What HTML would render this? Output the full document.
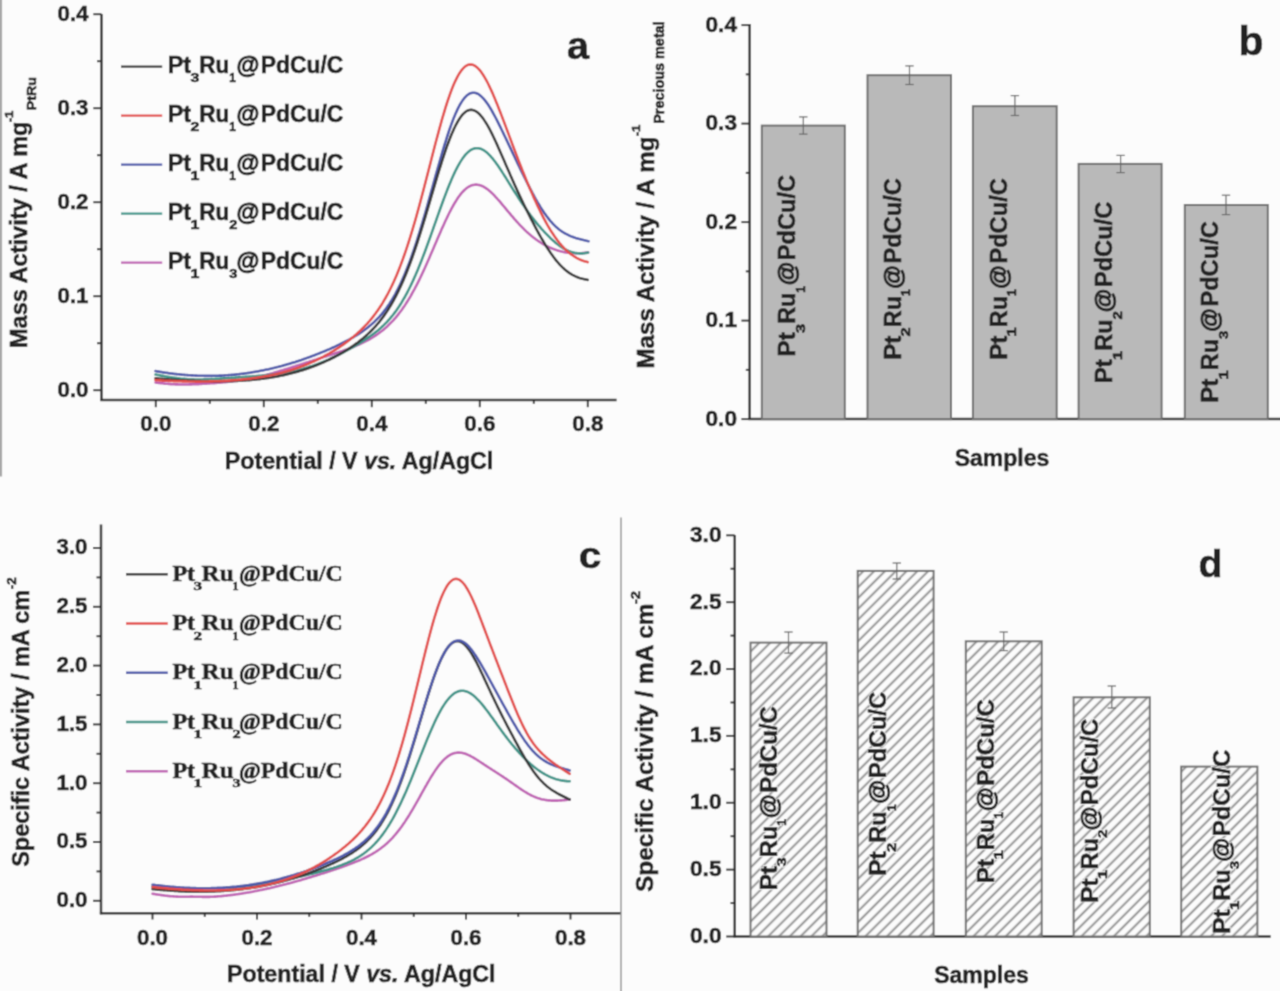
<!DOCTYPE html>
<html><head><meta charset="utf-8"><style>
html,body{margin:0;padding:0;background:#fcfcfc;}
svg{display:block;}
</style></head><body>
<svg width="1280" height="991" viewBox="0 0 1280 991">
<defs><filter id="soft" x="0" y="0" width="1280" height="991" filterUnits="userSpaceOnUse"><feConvolveMatrix order="3" kernelMatrix="0.04 0.12 0.04 0.12 0.36 0.12 0.04 0.12 0.04" edgeMode="duplicate"/></filter></defs>
<g filter="url(#soft)">
<rect width="1280" height="991" fill="#fcfcfc"/>
<line x1="1.00" y1="0.00" x2="1.00" y2="476.50" stroke="#a8a8a8" stroke-width="2.2"/>
<line x1="621.00" y1="517.50" x2="621.00" y2="991.00" stroke="#9a9a9a" stroke-width="1.6"/>
<line x1="101.50" y1="14.00" x2="101.50" y2="401.00" stroke="#333333" stroke-width="2.5"/>
<line x1="100.40" y1="400.00" x2="616.60" y2="400.00" stroke="#333333" stroke-width="2.5"/>
<line x1="93.30" y1="390.20" x2="101.50" y2="390.20" stroke="#333333" stroke-width="2"/>
<text x="88.5" y="396.6" font-family="'Liberation Sans', sans-serif" font-weight="bold" font-size="22" text-anchor="end" fill="#232323" textLength="31.0" lengthAdjust="spacingAndGlyphs" stroke="#232323" stroke-width="0.6">0.0</text>
<line x1="97.00" y1="343.20" x2="101.50" y2="343.20" stroke="#333333" stroke-width="2"/>
<line x1="93.30" y1="296.20" x2="101.50" y2="296.20" stroke="#333333" stroke-width="2"/>
<text x="88.5" y="302.6" font-family="'Liberation Sans', sans-serif" font-weight="bold" font-size="22" text-anchor="end" fill="#232323" textLength="31.0" lengthAdjust="spacingAndGlyphs" stroke="#232323" stroke-width="0.6">0.1</text>
<line x1="97.00" y1="249.20" x2="101.50" y2="249.20" stroke="#333333" stroke-width="2"/>
<line x1="93.30" y1="202.20" x2="101.50" y2="202.20" stroke="#333333" stroke-width="2"/>
<text x="88.5" y="208.6" font-family="'Liberation Sans', sans-serif" font-weight="bold" font-size="22" text-anchor="end" fill="#232323" textLength="31.0" lengthAdjust="spacingAndGlyphs" stroke="#232323" stroke-width="0.6">0.2</text>
<line x1="97.00" y1="155.20" x2="101.50" y2="155.20" stroke="#333333" stroke-width="2"/>
<line x1="93.30" y1="108.20" x2="101.50" y2="108.20" stroke="#333333" stroke-width="2"/>
<text x="88.5" y="114.6" font-family="'Liberation Sans', sans-serif" font-weight="bold" font-size="22" text-anchor="end" fill="#232323" textLength="31.0" lengthAdjust="spacingAndGlyphs" stroke="#232323" stroke-width="0.6">0.3</text>
<line x1="97.00" y1="61.20" x2="101.50" y2="61.20" stroke="#333333" stroke-width="2"/>
<line x1="93.30" y1="14.20" x2="101.50" y2="14.20" stroke="#333333" stroke-width="2"/>
<text x="88.5" y="20.6" font-family="'Liberation Sans', sans-serif" font-weight="bold" font-size="22" text-anchor="end" fill="#232323" textLength="31.0" lengthAdjust="spacingAndGlyphs" stroke="#232323" stroke-width="0.6">0.4</text>
<line x1="155.80" y1="400.00" x2="155.80" y2="407.20" stroke="#333333" stroke-width="2"/>
<text x="155.8" y="430.8" font-family="'Liberation Sans', sans-serif" font-weight="bold" font-size="22" text-anchor="middle" fill="#232323" textLength="31.0" lengthAdjust="spacingAndGlyphs" stroke="#232323" stroke-width="0.6">0.0</text>
<line x1="209.80" y1="400.00" x2="209.80" y2="403.80" stroke="#333333" stroke-width="2"/>
<line x1="263.80" y1="400.00" x2="263.80" y2="407.20" stroke="#333333" stroke-width="2"/>
<text x="263.8" y="430.8" font-family="'Liberation Sans', sans-serif" font-weight="bold" font-size="22" text-anchor="middle" fill="#232323" textLength="31.0" lengthAdjust="spacingAndGlyphs" stroke="#232323" stroke-width="0.6">0.2</text>
<line x1="317.80" y1="400.00" x2="317.80" y2="403.80" stroke="#333333" stroke-width="2"/>
<line x1="371.80" y1="400.00" x2="371.80" y2="407.20" stroke="#333333" stroke-width="2"/>
<text x="371.8" y="430.8" font-family="'Liberation Sans', sans-serif" font-weight="bold" font-size="22" text-anchor="middle" fill="#232323" textLength="31.0" lengthAdjust="spacingAndGlyphs" stroke="#232323" stroke-width="0.6">0.4</text>
<line x1="425.80" y1="400.00" x2="425.80" y2="403.80" stroke="#333333" stroke-width="2"/>
<line x1="479.80" y1="400.00" x2="479.80" y2="407.20" stroke="#333333" stroke-width="2"/>
<text x="479.8" y="430.8" font-family="'Liberation Sans', sans-serif" font-weight="bold" font-size="22" text-anchor="middle" fill="#232323" textLength="31.0" lengthAdjust="spacingAndGlyphs" stroke="#232323" stroke-width="0.6">0.6</text>
<line x1="533.80" y1="400.00" x2="533.80" y2="403.80" stroke="#333333" stroke-width="2"/>
<line x1="587.80" y1="400.00" x2="587.80" y2="407.20" stroke="#333333" stroke-width="2"/>
<text x="587.8" y="430.8" font-family="'Liberation Sans', sans-serif" font-weight="bold" font-size="22" text-anchor="middle" fill="#232323" textLength="31.0" lengthAdjust="spacingAndGlyphs" stroke="#232323" stroke-width="0.6">0.8</text>
<text x="224.8" y="469.2" font-family="'Liberation Sans', sans-serif" font-weight="bold" font-size="23" text-anchor="start" fill="#232323" textLength="268.5" lengthAdjust="spacingAndGlyphs" stroke="#232323" stroke-width="0.6">Potential / V <tspan font-style="italic">vs.</tspan> Ag/AgCl</text>
<text transform="translate(27.2,348.0) rotate(-90)" font-family="'Liberation Sans', sans-serif" font-weight="bold" font-size="23" text-anchor="start" fill="#232323" textLength="226.5" lengthAdjust="spacingAndGlyphs" stroke="#232323" stroke-width="0.6">Mass Activity / A mg</text>
<text transform="translate(13.2,122.3) rotate(-90)" font-family="'Liberation Sans', sans-serif" font-weight="bold" font-size="11" text-anchor="start" fill="#232323" textLength="11.5" lengthAdjust="spacingAndGlyphs" stroke="#232323" stroke-width="0.6">-1</text>
<text transform="translate(35.8,110.2) rotate(-90)" font-family="'Liberation Sans', sans-serif" font-weight="bold" font-size="13" text-anchor="start" fill="#232323" textLength="33.2" lengthAdjust="spacingAndGlyphs" stroke="#232323" stroke-width="0.6">PtRu</text>
<text x="567.0" y="59.3" font-family="'Liberation Sans', sans-serif" font-weight="bold" font-size="38" text-anchor="start" fill="#232323" textLength="22.0" lengthAdjust="spacingAndGlyphs" stroke="#232323" stroke-width="0.6">a</text>
<line x1="121.00" y1="66.60" x2="162.20" y2="66.60" stroke="#383838" stroke-width="2.4"/>
<text x="167.8" y="72.7" font-family="'Liberation Sans', sans-serif" font-weight="bold" font-size="23" text-anchor="start" fill="#232323" textLength="23.3" lengthAdjust="spacingAndGlyphs" stroke="#232323" stroke-width="0.6">Pt</text>
<text x="190.4" y="82.2" font-family="'Liberation Sans', sans-serif" font-weight="bold" font-size="12" text-anchor="start" fill="#232323" textLength="8.8" lengthAdjust="spacingAndGlyphs" stroke="#232323" stroke-width="0.6">3</text>
<text x="199.3" y="72.7" font-family="'Liberation Sans', sans-serif" font-weight="bold" font-size="23" text-anchor="start" fill="#232323" textLength="30.1" lengthAdjust="spacingAndGlyphs" stroke="#232323" stroke-width="0.6">Ru</text>
<text x="229.3" y="82.2" font-family="'Liberation Sans', sans-serif" font-weight="bold" font-size="12" text-anchor="start" fill="#232323" textLength="6.6" lengthAdjust="spacingAndGlyphs" stroke="#232323" stroke-width="0.6">1</text>
<text x="236.5" y="72.7" font-family="'Liberation Sans', sans-serif" font-weight="bold" font-size="23" text-anchor="start" fill="#232323" textLength="22.8" lengthAdjust="spacingAndGlyphs" stroke="#232323" stroke-width="1.0">@</text>
<text x="260.7" y="72.7" font-family="'Liberation Sans', sans-serif" font-weight="bold" font-size="23" text-anchor="start" fill="#232323" textLength="82.6" lengthAdjust="spacingAndGlyphs" stroke="#232323" stroke-width="0.6">PdCu/C</text>
<line x1="121.00" y1="115.60" x2="162.20" y2="115.60" stroke="#e24e4c" stroke-width="2.4"/>
<text x="167.8" y="121.7" font-family="'Liberation Sans', sans-serif" font-weight="bold" font-size="23" text-anchor="start" fill="#232323" textLength="23.3" lengthAdjust="spacingAndGlyphs" stroke="#232323" stroke-width="0.6">Pt</text>
<text x="190.4" y="131.2" font-family="'Liberation Sans', sans-serif" font-weight="bold" font-size="12" text-anchor="start" fill="#232323" textLength="8.8" lengthAdjust="spacingAndGlyphs" stroke="#232323" stroke-width="0.6">2</text>
<text x="199.3" y="121.7" font-family="'Liberation Sans', sans-serif" font-weight="bold" font-size="23" text-anchor="start" fill="#232323" textLength="30.1" lengthAdjust="spacingAndGlyphs" stroke="#232323" stroke-width="0.6">Ru</text>
<text x="229.3" y="131.2" font-family="'Liberation Sans', sans-serif" font-weight="bold" font-size="12" text-anchor="start" fill="#232323" textLength="6.6" lengthAdjust="spacingAndGlyphs" stroke="#232323" stroke-width="0.6">1</text>
<text x="236.5" y="121.7" font-family="'Liberation Sans', sans-serif" font-weight="bold" font-size="23" text-anchor="start" fill="#232323" textLength="22.8" lengthAdjust="spacingAndGlyphs" stroke="#232323" stroke-width="1.0">@</text>
<text x="260.7" y="121.7" font-family="'Liberation Sans', sans-serif" font-weight="bold" font-size="23" text-anchor="start" fill="#232323" textLength="82.6" lengthAdjust="spacingAndGlyphs" stroke="#232323" stroke-width="0.6">PdCu/C</text>
<line x1="121.00" y1="164.60" x2="162.20" y2="164.60" stroke="#4d58aa" stroke-width="2.4"/>
<text x="167.8" y="170.7" font-family="'Liberation Sans', sans-serif" font-weight="bold" font-size="23" text-anchor="start" fill="#232323" textLength="23.3" lengthAdjust="spacingAndGlyphs" stroke="#232323" stroke-width="0.6">Pt</text>
<text x="190.4" y="180.2" font-family="'Liberation Sans', sans-serif" font-weight="bold" font-size="12" text-anchor="start" fill="#232323" textLength="8.8" lengthAdjust="spacingAndGlyphs" stroke="#232323" stroke-width="0.6">1</text>
<text x="199.3" y="170.7" font-family="'Liberation Sans', sans-serif" font-weight="bold" font-size="23" text-anchor="start" fill="#232323" textLength="30.1" lengthAdjust="spacingAndGlyphs" stroke="#232323" stroke-width="0.6">Ru</text>
<text x="229.3" y="180.2" font-family="'Liberation Sans', sans-serif" font-weight="bold" font-size="12" text-anchor="start" fill="#232323" textLength="6.6" lengthAdjust="spacingAndGlyphs" stroke="#232323" stroke-width="0.6">1</text>
<text x="236.5" y="170.7" font-family="'Liberation Sans', sans-serif" font-weight="bold" font-size="23" text-anchor="start" fill="#232323" textLength="22.8" lengthAdjust="spacingAndGlyphs" stroke="#232323" stroke-width="1.0">@</text>
<text x="260.7" y="170.7" font-family="'Liberation Sans', sans-serif" font-weight="bold" font-size="23" text-anchor="start" fill="#232323" textLength="82.6" lengthAdjust="spacingAndGlyphs" stroke="#232323" stroke-width="0.6">PdCu/C</text>
<line x1="121.00" y1="213.60" x2="162.20" y2="213.60" stroke="#3d9488" stroke-width="2.4"/>
<text x="167.8" y="219.7" font-family="'Liberation Sans', sans-serif" font-weight="bold" font-size="23" text-anchor="start" fill="#232323" textLength="23.3" lengthAdjust="spacingAndGlyphs" stroke="#232323" stroke-width="0.6">Pt</text>
<text x="190.4" y="229.2" font-family="'Liberation Sans', sans-serif" font-weight="bold" font-size="12" text-anchor="start" fill="#232323" textLength="8.8" lengthAdjust="spacingAndGlyphs" stroke="#232323" stroke-width="0.6">1</text>
<text x="199.3" y="219.7" font-family="'Liberation Sans', sans-serif" font-weight="bold" font-size="23" text-anchor="start" fill="#232323" textLength="30.1" lengthAdjust="spacingAndGlyphs" stroke="#232323" stroke-width="0.6">Ru</text>
<text x="229.3" y="229.2" font-family="'Liberation Sans', sans-serif" font-weight="bold" font-size="12" text-anchor="start" fill="#232323" textLength="8.1" lengthAdjust="spacingAndGlyphs" stroke="#232323" stroke-width="0.6">2</text>
<text x="236.5" y="219.7" font-family="'Liberation Sans', sans-serif" font-weight="bold" font-size="23" text-anchor="start" fill="#232323" textLength="22.8" lengthAdjust="spacingAndGlyphs" stroke="#232323" stroke-width="1.0">@</text>
<text x="260.7" y="219.7" font-family="'Liberation Sans', sans-serif" font-weight="bold" font-size="23" text-anchor="start" fill="#232323" textLength="82.6" lengthAdjust="spacingAndGlyphs" stroke="#232323" stroke-width="0.6">PdCu/C</text>
<line x1="121.00" y1="262.60" x2="162.20" y2="262.60" stroke="#bf62b3" stroke-width="2.4"/>
<text x="167.8" y="268.7" font-family="'Liberation Sans', sans-serif" font-weight="bold" font-size="23" text-anchor="start" fill="#232323" textLength="23.3" lengthAdjust="spacingAndGlyphs" stroke="#232323" stroke-width="0.6">Pt</text>
<text x="190.4" y="278.2" font-family="'Liberation Sans', sans-serif" font-weight="bold" font-size="12" text-anchor="start" fill="#232323" textLength="8.8" lengthAdjust="spacingAndGlyphs" stroke="#232323" stroke-width="0.6">1</text>
<text x="199.3" y="268.7" font-family="'Liberation Sans', sans-serif" font-weight="bold" font-size="23" text-anchor="start" fill="#232323" textLength="30.1" lengthAdjust="spacingAndGlyphs" stroke="#232323" stroke-width="0.6">Ru</text>
<text x="229.3" y="278.2" font-family="'Liberation Sans', sans-serif" font-weight="bold" font-size="12" text-anchor="start" fill="#232323" textLength="8.1" lengthAdjust="spacingAndGlyphs" stroke="#232323" stroke-width="0.6">3</text>
<text x="236.5" y="268.7" font-family="'Liberation Sans', sans-serif" font-weight="bold" font-size="23" text-anchor="start" fill="#232323" textLength="22.8" lengthAdjust="spacingAndGlyphs" stroke="#232323" stroke-width="1.0">@</text>
<text x="260.7" y="268.7" font-family="'Liberation Sans', sans-serif" font-weight="bold" font-size="23" text-anchor="start" fill="#232323" textLength="82.6" lengthAdjust="spacingAndGlyphs" stroke="#232323" stroke-width="0.6">PdCu/C</text>
<path d="M155.5,382.5 L156.5,382.6 L157.5,382.8 L158.5,382.9 L159.5,383.0 L160.5,383.1 L161.5,383.2 L162.5,383.3 L163.5,383.5 L164.5,383.6 L165.5,383.7 L166.5,383.8 L167.5,383.8 L168.5,383.9 L169.5,384.0 L170.5,384.1 L171.5,384.2 L172.5,384.2 L173.5,384.3 L174.5,384.3 L175.5,384.4 L176.5,384.4 L177.5,384.4 L178.5,384.5 L179.5,384.5 L180.5,384.5 L181.5,384.5 L182.5,384.5 L183.5,384.5 L184.5,384.5 L185.5,384.5 L186.5,384.5 L187.5,384.5 L188.5,384.5 L189.5,384.4 L190.5,384.4 L191.5,384.4 L192.5,384.3 L193.5,384.3 L194.5,384.3 L195.5,384.2 L196.5,384.2 L197.5,384.1 L198.5,384.1 L199.5,384.0 L200.5,384.0 L201.5,383.9 L202.5,383.8 L203.5,383.8 L204.5,383.7 L205.5,383.7 L206.5,383.6 L207.5,383.5 L208.5,383.5 L209.5,383.4 L210.5,383.3 L211.5,383.3 L212.5,383.2 L213.5,383.1 L214.5,383.1 L215.5,383.0 L216.5,382.9 L217.5,382.8 L218.5,382.7 L219.5,382.7 L220.5,382.6 L221.5,382.5 L222.5,382.4 L223.5,382.3 L224.5,382.2 L225.5,382.1 L226.5,382.0 L227.5,381.9 L228.5,381.8 L229.5,381.7 L230.5,381.5 L231.5,381.4 L232.5,381.3 L233.5,381.2 L234.5,381.0 L235.5,380.9 L236.5,380.8 L237.5,380.6 L238.5,380.5 L239.5,380.3 L240.5,380.2 L241.5,380.0 L242.5,379.9 L243.5,379.7 L244.5,379.5 L245.5,379.3 L246.5,379.2 L247.5,379.0 L248.5,378.8 L249.5,378.6 L250.5,378.4 L251.5,378.2 L252.5,378.0 L253.5,377.8 L254.5,377.6 L255.5,377.4 L256.5,377.2 L257.5,376.9 L258.5,376.7 L259.5,376.5 L260.5,376.2 L261.5,376.0 L262.5,375.8 L263.5,375.5 L264.5,375.3 L265.5,375.0 L266.5,374.8 L267.5,374.5 L268.5,374.2 L269.5,374.0 L270.5,373.7 L271.5,373.4 L272.5,373.2 L273.5,372.9 L274.5,372.6 L275.5,372.3 L276.5,372.0 L277.5,371.7 L278.5,371.4 L279.5,371.1 L280.5,370.8 L281.5,370.5 L282.5,370.2 L283.5,369.9 L284.5,369.6 L285.5,369.3 L286.5,369.0 L287.5,368.7 L288.5,368.4 L289.5,368.1 L290.5,367.8 L291.5,367.4 L292.5,367.1 L293.5,366.8 L294.5,366.5 L295.5,366.2 L296.5,365.8 L297.5,365.5 L298.5,365.2 L299.5,364.9 L300.5,364.6 L301.5,364.2 L302.5,363.9 L303.5,363.6 L304.5,363.3 L305.5,362.9 L306.5,362.6 L307.5,362.3 L308.5,362.0 L309.5,361.6 L310.5,361.3 L311.5,361.0 L312.5,360.7 L313.5,360.3 L314.5,360.0 L315.5,359.7 L316.5,359.4 L317.5,359.0 L318.5,358.7 L319.5,358.4 L320.5,358.1 L321.5,357.8 L322.5,357.4 L323.5,357.1 L324.5,356.8 L325.5,356.5 L326.5,356.2 L327.5,355.8 L328.5,355.5 L329.5,355.2 L330.5,354.9 L331.5,354.5 L332.5,354.2 L333.5,353.9 L334.5,353.6 L335.5,353.2 L336.5,352.9 L337.5,352.6 L338.5,352.2 L339.5,351.9 L340.5,351.6 L341.5,351.2 L342.5,350.9 L343.5,350.5 L344.5,350.2 L345.5,349.8 L346.5,349.5 L347.5,349.1 L348.5,348.7 L349.5,348.4 L350.5,348.0 L351.5,347.6 L352.5,347.2 L353.5,346.8 L354.5,346.4 L355.5,346.0 L356.5,345.6 L357.5,345.1 L358.5,344.7 L359.5,344.3 L360.5,343.8 L361.5,343.4 L362.5,342.9 L363.5,342.4 L364.5,341.9 L365.5,341.4 L366.5,340.9 L367.5,340.4 L368.5,339.8 L369.5,339.3 L370.5,338.7 L371.5,338.1 L372.5,337.5 L373.5,336.9 L374.5,336.2 L375.5,335.6 L376.5,334.9 L377.5,334.2 L378.5,333.5 L379.5,332.8 L380.5,332.0 L381.5,331.3 L382.5,330.5 L383.5,329.7 L384.5,328.8 L385.5,328.0 L386.5,327.1 L387.5,326.2 L388.5,325.2 L389.5,324.2 L390.5,323.2 L391.5,322.2 L392.5,321.2 L393.5,320.1 L394.5,318.9 L395.5,317.8 L396.5,316.6 L397.5,315.4 L398.5,314.1 L399.5,312.8 L400.5,311.5 L401.5,310.2 L402.5,308.8 L403.5,307.3 L404.5,305.9 L405.5,304.4 L406.5,302.8 L407.5,301.2 L408.5,299.6 L409.5,298.0 L410.5,296.3 L411.5,294.5 L412.5,292.7 L413.5,290.9 L414.5,289.1 L415.5,287.2 L416.5,285.3 L417.5,283.3 L418.5,281.3 L419.5,279.3 L420.5,277.2 L421.5,275.1 L422.5,273.0 L423.5,270.9 L424.5,268.7 L425.5,266.5 L426.5,264.2 L427.5,262.0 L428.5,259.7 L429.5,257.4 L430.5,255.1 L431.5,252.8 L432.5,250.5 L433.5,248.2 L434.5,245.8 L435.5,243.5 L436.5,241.2 L437.5,238.8 L438.5,236.5 L439.5,234.2 L440.5,231.9 L441.5,229.6 L442.5,227.4 L443.5,225.2 L444.5,223.0 L445.5,220.8 L446.5,218.7 L447.5,216.6 L448.5,214.5 L449.5,212.5 L450.5,210.6 L451.5,208.7 L452.5,206.8 L453.5,205.0 L454.5,203.3 L455.5,201.7 L456.5,200.1 L457.5,198.5 L458.5,197.1 L459.5,195.7 L460.5,194.4 L461.5,193.2 L462.5,192.0 L463.5,191.0 L464.5,190.0 L465.5,189.1 L466.5,188.2 L467.5,187.5 L468.5,186.9 L469.5,186.3 L470.5,185.8 L471.5,185.4 L472.5,185.1 L473.5,184.9 L474.5,184.7 L475.5,184.6 L476.5,184.6 L477.5,184.7 L478.5,184.9 L479.5,185.1 L480.5,185.4 L481.5,185.8 L482.5,186.2 L483.5,186.7 L484.5,187.3 L485.5,187.9 L486.5,188.6 L487.5,189.3 L488.5,190.1 L489.5,190.9 L490.5,191.8 L491.5,192.7 L492.5,193.7 L493.5,194.7 L494.5,195.7 L495.5,196.8 L496.5,197.8 L497.5,199.0 L498.5,200.1 L499.5,201.2 L500.5,202.4 L501.5,203.6 L502.5,204.8 L503.5,206.0 L504.5,207.2 L505.5,208.4 L506.5,209.6 L507.5,210.8 L508.5,212.0 L509.5,213.2 L510.5,214.4 L511.5,215.6 L512.5,216.7 L513.5,217.9 L514.5,219.1 L515.5,220.2 L516.5,221.3 L517.5,222.4 L518.5,223.5 L519.5,224.6 L520.5,225.7 L521.5,226.7 L522.5,227.7 L523.5,228.7 L524.5,229.7 L525.5,230.6 L526.5,231.6 L527.5,232.5 L528.5,233.4 L529.5,234.3 L530.5,235.1 L531.5,236.0 L532.5,236.8 L533.5,237.6 L534.5,238.3 L535.5,239.1 L536.5,239.8 L537.5,240.5 L538.5,241.2 L539.5,241.8 L540.5,242.5 L541.5,243.1 L542.5,243.7 L543.5,244.3 L544.5,244.8 L545.5,245.4 L546.5,245.9 L547.5,246.4 L548.5,246.9 L549.5,247.4 L550.5,247.8 L551.5,248.2 L552.5,248.6 L553.5,249.0 L554.5,249.4 L555.5,249.8 L556.5,250.1 L557.5,250.4 L558.5,250.7 L559.5,251.0 L560.5,251.3 L561.5,251.5 L562.5,251.8 L563.5,252.0 L564.5,252.2 L565.5,252.4 L566.5,252.5 L567.5,252.7 L568.5,252.8 L569.5,252.9 L570.5,253.0 L571.5,253.1 L572.5,253.2 L573.5,253.3 L574.5,253.3 L575.5,253.3 L576.5,253.3 L577.5,253.3 L578.5,253.3 L579.5,253.3 L580.5,253.2 L581.5,253.2 L582.5,253.1 L583.5,253.0 L584.5,252.9 L585.5,252.8 L586.5,252.6 L587.5,252.5 L588.1,252.4" fill="none" stroke="#bf62b3" stroke-width="2.6" stroke-linejoin="round" stroke-linecap="round"/>
<path d="M155.5,374.5 L156.5,374.7 L157.5,374.9 L158.5,375.1 L159.5,375.3 L160.5,375.5 L161.5,375.7 L162.5,375.8 L163.5,376.0 L164.5,376.2 L165.5,376.4 L166.5,376.6 L167.5,376.7 L168.5,376.9 L169.5,377.1 L170.5,377.2 L171.5,377.4 L172.5,377.5 L173.5,377.7 L174.5,377.8 L175.5,378.0 L176.5,378.1 L177.5,378.2 L178.5,378.3 L179.5,378.4 L180.5,378.6 L181.5,378.7 L182.5,378.8 L183.5,378.9 L184.5,378.9 L185.5,379.0 L186.5,379.1 L187.5,379.2 L188.5,379.2 L189.5,379.3 L190.5,379.3 L191.5,379.4 L192.5,379.4 L193.5,379.4 L194.5,379.5 L195.5,379.5 L196.5,379.5 L197.5,379.5 L198.5,379.5 L199.5,379.5 L200.5,379.5 L201.5,379.5 L202.5,379.5 L203.5,379.4 L204.5,379.4 L205.5,379.4 L206.5,379.4 L207.5,379.3 L208.5,379.3 L209.5,379.2 L210.5,379.2 L211.5,379.1 L212.5,379.1 L213.5,379.0 L214.5,379.0 L215.5,378.9 L216.5,378.9 L217.5,378.8 L218.5,378.7 L219.5,378.7 L220.5,378.6 L221.5,378.6 L222.5,378.5 L223.5,378.4 L224.5,378.4 L225.5,378.3 L226.5,378.2 L227.5,378.2 L228.5,378.1 L229.5,378.0 L230.5,378.0 L231.5,377.9 L232.5,377.8 L233.5,377.7 L234.5,377.7 L235.5,377.6 L236.5,377.5 L237.5,377.5 L238.5,377.4 L239.5,377.3 L240.5,377.3 L241.5,377.2 L242.5,377.1 L243.5,377.1 L244.5,377.0 L245.5,376.9 L246.5,376.8 L247.5,376.8 L248.5,376.7 L249.5,376.6 L250.5,376.6 L251.5,376.5 L252.5,376.4 L253.5,376.3 L254.5,376.3 L255.5,376.2 L256.5,376.1 L257.5,376.0 L258.5,375.9 L259.5,375.8 L260.5,375.8 L261.5,375.7 L262.5,375.6 L263.5,375.5 L264.5,375.4 L265.5,375.3 L266.5,375.2 L267.5,375.1 L268.5,375.0 L269.5,374.9 L270.5,374.7 L271.5,374.6 L272.5,374.5 L273.5,374.4 L274.5,374.3 L275.5,374.1 L276.5,374.0 L277.5,373.9 L278.5,373.7 L279.5,373.6 L280.5,373.4 L281.5,373.3 L282.5,373.1 L283.5,373.0 L284.5,372.8 L285.5,372.6 L286.5,372.5 L287.5,372.3 L288.5,372.1 L289.5,371.9 L290.5,371.7 L291.5,371.5 L292.5,371.3 L293.5,371.1 L294.5,370.9 L295.5,370.6 L296.5,370.4 L297.5,370.2 L298.5,369.9 L299.5,369.7 L300.5,369.4 L301.5,369.2 L302.5,368.9 L303.5,368.6 L304.5,368.4 L305.5,368.1 L306.5,367.8 L307.5,367.5 L308.5,367.2 L309.5,366.8 L310.5,366.5 L311.5,366.2 L312.5,365.9 L313.5,365.5 L314.5,365.2 L315.5,364.8 L316.5,364.5 L317.5,364.1 L318.5,363.7 L319.5,363.3 L320.5,362.9 L321.5,362.5 L322.5,362.1 L323.5,361.7 L324.5,361.3 L325.5,360.9 L326.5,360.5 L327.5,360.0 L328.5,359.6 L329.5,359.1 L330.5,358.7 L331.5,358.2 L332.5,357.7 L333.5,357.3 L334.5,356.8 L335.5,356.3 L336.5,355.8 L337.5,355.3 L338.5,354.8 L339.5,354.3 L340.5,353.8 L341.5,353.3 L342.5,352.8 L343.5,352.3 L344.5,351.7 L345.5,351.2 L346.5,350.7 L347.5,350.1 L348.5,349.6 L349.5,349.0 L350.5,348.5 L351.5,347.9 L352.5,347.3 L353.5,346.8 L354.5,346.2 L355.5,345.6 L356.5,345.0 L357.5,344.4 L358.5,343.8 L359.5,343.2 L360.5,342.6 L361.5,342.0 L362.5,341.4 L363.5,340.7 L364.5,340.1 L365.5,339.4 L366.5,338.8 L367.5,338.1 L368.5,337.4 L369.5,336.7 L370.5,336.0 L371.5,335.3 L372.5,334.6 L373.5,333.8 L374.5,333.1 L375.5,332.3 L376.5,331.5 L377.5,330.7 L378.5,329.9 L379.5,329.0 L380.5,328.1 L381.5,327.2 L382.5,326.3 L383.5,325.4 L384.5,324.4 L385.5,323.4 L386.5,322.4 L387.5,321.3 L388.5,320.2 L389.5,319.1 L390.5,317.9 L391.5,316.7 L392.5,315.5 L393.5,314.2 L394.5,312.9 L395.5,311.6 L396.5,310.2 L397.5,308.7 L398.5,307.3 L399.5,305.8 L400.5,304.2 L401.5,302.6 L402.5,300.9 L403.5,299.2 L404.5,297.5 L405.5,295.7 L406.5,293.8 L407.5,292.0 L408.5,290.0 L409.5,288.0 L410.5,286.0 L411.5,283.9 L412.5,281.8 L413.5,279.6 L414.5,277.3 L415.5,275.1 L416.5,272.7 L417.5,270.4 L418.5,268.0 L419.5,265.5 L420.5,263.0 L421.5,260.5 L422.5,257.9 L423.5,255.3 L424.5,252.7 L425.5,250.0 L426.5,247.3 L427.5,244.5 L428.5,241.8 L429.5,239.0 L430.5,236.2 L431.5,233.4 L432.5,230.6 L433.5,227.8 L434.5,224.9 L435.5,222.1 L436.5,219.3 L437.5,216.4 L438.5,213.6 L439.5,210.8 L440.5,208.0 L441.5,205.3 L442.5,202.5 L443.5,199.8 L444.5,197.1 L445.5,194.5 L446.5,191.9 L447.5,189.3 L448.5,186.8 L449.5,184.3 L450.5,181.9 L451.5,179.5 L452.5,177.3 L453.5,175.0 L454.5,172.9 L455.5,170.8 L456.5,168.8 L457.5,166.9 L458.5,165.1 L459.5,163.3 L460.5,161.6 L461.5,160.1 L462.5,158.6 L463.5,157.2 L464.5,155.9 L465.5,154.7 L466.5,153.6 L467.5,152.6 L468.5,151.7 L469.5,150.9 L470.5,150.2 L471.5,149.6 L472.5,149.1 L473.5,148.7 L474.5,148.4 L475.5,148.3 L476.5,148.2 L477.5,148.2 L478.5,148.3 L479.5,148.5 L480.5,148.8 L481.5,149.1 L482.5,149.6 L483.5,150.1 L484.5,150.8 L485.5,151.5 L486.5,152.3 L487.5,153.1 L488.5,154.1 L489.5,155.1 L490.5,156.1 L491.5,157.3 L492.5,158.4 L493.5,159.7 L494.5,161.0 L495.5,162.3 L496.5,163.7 L497.5,165.1 L498.5,166.5 L499.5,168.0 L500.5,169.5 L501.5,171.0 L502.5,172.6 L503.5,174.1 L504.5,175.7 L505.5,177.3 L506.5,178.9 L507.5,180.5 L508.5,182.1 L509.5,183.7 L510.5,185.3 L511.5,187.0 L512.5,188.6 L513.5,190.2 L514.5,191.7 L515.5,193.3 L516.5,194.9 L517.5,196.4 L518.5,198.0 L519.5,199.5 L520.5,201.0 L521.5,202.5 L522.5,204.0 L523.5,205.4 L524.5,206.9 L525.5,208.3 L526.5,209.7 L527.5,211.1 L528.5,212.5 L529.5,213.8 L530.5,215.2 L531.5,216.5 L532.5,217.8 L533.5,219.1 L534.5,220.4 L535.5,221.6 L536.5,222.9 L537.5,224.1 L538.5,225.3 L539.5,226.4 L540.5,227.6 L541.5,228.8 L542.5,229.9 L543.5,231.0 L544.5,232.1 L545.5,233.2 L546.5,234.2 L547.5,235.2 L548.5,236.2 L549.5,237.2 L550.5,238.2 L551.5,239.1 L552.5,240.1 L553.5,240.9 L554.5,241.8 L555.5,242.7 L556.5,243.5 L557.5,244.3 L558.5,245.0 L559.5,245.8 L560.5,246.4 L561.5,247.1 L562.5,247.8 L563.5,248.4 L564.5,248.9 L565.5,249.5 L566.5,250.0 L567.5,250.4 L568.5,250.9 L569.5,251.3 L570.5,251.7 L571.5,252.0 L572.5,252.3 L573.5,252.5 L574.5,252.8 L575.5,253.0 L576.5,253.1 L577.5,253.2 L578.5,253.3 L579.5,253.4 L580.5,253.4 L581.5,253.4 L582.5,253.4 L583.5,253.3 L584.5,253.2 L585.5,253.0 L586.5,252.9 L587.5,252.7 L588.1,252.6" fill="none" stroke="#3d9488" stroke-width="2.6" stroke-linejoin="round" stroke-linecap="round"/>
<path d="M155.5,371.0 L156.5,371.2 L157.5,371.4 L158.5,371.5 L159.5,371.7 L160.5,371.9 L161.5,372.0 L162.5,372.2 L163.5,372.4 L164.5,372.5 L165.5,372.7 L166.5,372.8 L167.5,372.9 L168.5,373.1 L169.5,373.2 L170.5,373.4 L171.5,373.5 L172.5,373.6 L173.5,373.7 L174.5,373.9 L175.5,374.0 L176.5,374.1 L177.5,374.2 L178.5,374.3 L179.5,374.4 L180.5,374.5 L181.5,374.6 L182.5,374.7 L183.5,374.8 L184.5,374.9 L185.5,375.0 L186.5,375.0 L187.5,375.1 L188.5,375.2 L189.5,375.3 L190.5,375.3 L191.5,375.4 L192.5,375.4 L193.5,375.5 L194.5,375.5 L195.5,375.6 L196.5,375.6 L197.5,375.7 L198.5,375.7 L199.5,375.7 L200.5,375.8 L201.5,375.8 L202.5,375.8 L203.5,375.8 L204.5,375.9 L205.5,375.9 L206.5,375.9 L207.5,375.9 L208.5,375.9 L209.5,375.9 L210.5,375.9 L211.5,375.9 L212.5,375.8 L213.5,375.8 L214.5,375.8 L215.5,375.8 L216.5,375.8 L217.5,375.7 L218.5,375.7 L219.5,375.6 L220.5,375.6 L221.5,375.6 L222.5,375.5 L223.5,375.5 L224.5,375.4 L225.5,375.3 L226.5,375.3 L227.5,375.2 L228.5,375.1 L229.5,375.0 L230.5,375.0 L231.5,374.9 L232.5,374.8 L233.5,374.7 L234.5,374.6 L235.5,374.5 L236.5,374.4 L237.5,374.3 L238.5,374.2 L239.5,374.1 L240.5,374.0 L241.5,373.8 L242.5,373.7 L243.5,373.6 L244.5,373.5 L245.5,373.3 L246.5,373.2 L247.5,373.0 L248.5,372.9 L249.5,372.7 L250.5,372.6 L251.5,372.4 L252.5,372.3 L253.5,372.1 L254.5,371.9 L255.5,371.8 L256.5,371.6 L257.5,371.4 L258.5,371.2 L259.5,371.0 L260.5,370.8 L261.5,370.6 L262.5,370.4 L263.5,370.2 L264.5,370.0 L265.5,369.8 L266.5,369.6 L267.5,369.4 L268.5,369.2 L269.5,368.9 L270.5,368.7 L271.5,368.5 L272.5,368.3 L273.5,368.0 L274.5,367.8 L275.5,367.5 L276.5,367.3 L277.5,367.0 L278.5,366.8 L279.5,366.5 L280.5,366.2 L281.5,366.0 L282.5,365.7 L283.5,365.4 L284.5,365.1 L285.5,364.9 L286.5,364.6 L287.5,364.3 L288.5,364.0 L289.5,363.7 L290.5,363.4 L291.5,363.1 L292.5,362.8 L293.5,362.5 L294.5,362.2 L295.5,361.9 L296.5,361.5 L297.5,361.2 L298.5,360.9 L299.5,360.6 L300.5,360.2 L301.5,359.9 L302.5,359.5 L303.5,359.2 L304.5,358.8 L305.5,358.5 L306.5,358.1 L307.5,357.8 L308.5,357.4 L309.5,357.1 L310.5,356.7 L311.5,356.3 L312.5,355.9 L313.5,355.6 L314.5,355.2 L315.5,354.8 L316.5,354.4 L317.5,354.0 L318.5,353.6 L319.5,353.2 L320.5,352.8 L321.5,352.4 L322.5,352.0 L323.5,351.6 L324.5,351.2 L325.5,350.8 L326.5,350.3 L327.5,349.9 L328.5,349.5 L329.5,349.1 L330.5,348.6 L331.5,348.2 L332.5,347.7 L333.5,347.3 L334.5,346.8 L335.5,346.4 L336.5,345.9 L337.5,345.4 L338.5,344.9 L339.5,344.5 L340.5,344.0 L341.5,343.5 L342.5,343.0 L343.5,342.5 L344.5,342.0 L345.5,341.5 L346.5,341.0 L347.5,340.4 L348.5,339.9 L349.5,339.4 L350.5,338.8 L351.5,338.2 L352.5,337.7 L353.5,337.1 L354.5,336.5 L355.5,335.9 L356.5,335.3 L357.5,334.7 L358.5,334.1 L359.5,333.4 L360.5,332.8 L361.5,332.1 L362.5,331.4 L363.5,330.7 L364.5,330.0 L365.5,329.2 L366.5,328.5 L367.5,327.7 L368.5,326.9 L369.5,326.1 L370.5,325.3 L371.5,324.4 L372.5,323.5 L373.5,322.6 L374.5,321.7 L375.5,320.7 L376.5,319.7 L377.5,318.7 L378.5,317.7 L379.5,316.6 L380.5,315.4 L381.5,314.3 L382.5,313.1 L383.5,311.9 L384.5,310.6 L385.5,309.3 L386.5,307.9 L387.5,306.5 L388.5,305.1 L389.5,303.6 L390.5,302.0 L391.5,300.5 L392.5,298.8 L393.5,297.1 L394.5,295.4 L395.5,293.6 L396.5,291.7 L397.5,289.8 L398.5,287.8 L399.5,285.8 L400.5,283.7 L401.5,281.5 L402.5,279.3 L403.5,277.0 L404.5,274.7 L405.5,272.3 L406.5,269.8 L407.5,267.3 L408.5,264.7 L409.5,262.1 L410.5,259.4 L411.5,256.6 L412.5,253.7 L413.5,250.9 L414.5,247.9 L415.5,244.9 L416.5,241.8 L417.5,238.7 L418.5,235.5 L419.5,232.3 L420.5,229.0 L421.5,225.7 L422.5,222.3 L423.5,218.9 L424.5,215.5 L425.5,212.0 L426.5,208.5 L427.5,205.0 L428.5,201.4 L429.5,197.8 L430.5,194.2 L431.5,190.6 L432.5,187.0 L433.5,183.4 L434.5,179.8 L435.5,176.2 L436.5,172.6 L437.5,169.0 L438.5,165.5 L439.5,162.0 L440.5,158.5 L441.5,155.0 L442.5,151.6 L443.5,148.3 L444.5,145.0 L445.5,141.8 L446.5,138.6 L447.5,135.5 L448.5,132.5 L449.5,129.5 L450.5,126.7 L451.5,123.9 L452.5,121.2 L453.5,118.6 L454.5,116.2 L455.5,113.8 L456.5,111.6 L457.5,109.4 L458.5,107.4 L459.5,105.5 L460.5,103.7 L461.5,102.1 L462.5,100.6 L463.5,99.2 L464.5,97.9 L465.5,96.8 L466.5,95.8 L467.5,95.0 L468.5,94.3 L469.5,93.7 L470.5,93.2 L471.5,92.9 L472.5,92.7 L473.5,92.7 L474.5,92.7 L475.5,92.9 L476.5,93.3 L477.5,93.7 L478.5,94.2 L479.5,94.9 L480.5,95.7 L481.5,96.6 L482.5,97.6 L483.5,98.6 L484.5,99.8 L485.5,101.1 L486.5,102.4 L487.5,103.8 L488.5,105.3 L489.5,106.9 L490.5,108.5 L491.5,110.2 L492.5,112.0 L493.5,113.8 L494.5,115.6 L495.5,117.5 L496.5,119.4 L497.5,121.4 L498.5,123.4 L499.5,125.4 L500.5,127.4 L501.5,129.5 L502.5,131.5 L503.5,133.6 L504.5,135.7 L505.5,137.8 L506.5,139.9 L507.5,142.0 L508.5,144.1 L509.5,146.3 L510.5,148.4 L511.5,150.5 L512.5,152.6 L513.5,154.7 L514.5,156.8 L515.5,158.9 L516.5,161.0 L517.5,163.1 L518.5,165.2 L519.5,167.3 L520.5,169.3 L521.5,171.4 L522.5,173.4 L523.5,175.5 L524.5,177.5 L525.5,179.5 L526.5,181.5 L527.5,183.5 L528.5,185.4 L529.5,187.4 L530.5,189.3 L531.5,191.2 L532.5,193.1 L533.5,194.9 L534.5,196.8 L535.5,198.6 L536.5,200.3 L537.5,202.1 L538.5,203.8 L539.5,205.4 L540.5,207.1 L541.5,208.7 L542.5,210.2 L543.5,211.7 L544.5,213.2 L545.5,214.6 L546.5,216.0 L547.5,217.3 L548.5,218.6 L549.5,219.9 L550.5,221.1 L551.5,222.2 L552.5,223.3 L553.5,224.4 L554.5,225.4 L555.5,226.4 L556.5,227.3 L557.5,228.1 L558.5,229.0 L559.5,229.8 L560.5,230.5 L561.5,231.2 L562.5,231.9 L563.5,232.5 L564.5,233.1 L565.5,233.7 L566.5,234.2 L567.5,234.7 L568.5,235.2 L569.5,235.6 L570.5,236.1 L571.5,236.5 L572.5,236.8 L573.5,237.2 L574.5,237.5 L575.5,237.9 L576.5,238.2 L577.5,238.5 L578.5,238.8 L579.5,239.0 L580.5,239.3 L581.5,239.6 L582.5,239.8 L583.5,240.1 L584.5,240.3 L585.5,240.6 L586.5,240.8 L587.5,241.1 L588.5,241.3 L588.6,241.3" fill="none" stroke="#4d58aa" stroke-width="2.6" stroke-linejoin="round" stroke-linecap="round"/>
<path d="M155.5,378.3 L156.5,378.4 L157.5,378.5 L158.5,378.6 L159.5,378.7 L160.5,378.8 L161.5,378.8 L162.5,378.9 L163.5,379.0 L164.5,379.1 L165.5,379.2 L166.5,379.3 L167.5,379.3 L168.5,379.4 L169.5,379.5 L170.5,379.6 L171.5,379.6 L172.5,379.7 L173.5,379.8 L174.5,379.9 L175.5,379.9 L176.5,380.0 L177.5,380.1 L178.5,380.1 L179.5,380.2 L180.5,380.2 L181.5,380.3 L182.5,380.4 L183.5,380.4 L184.5,380.5 L185.5,380.5 L186.5,380.6 L187.5,380.6 L188.5,380.7 L189.5,380.7 L190.5,380.8 L191.5,380.8 L192.5,380.9 L193.5,380.9 L194.5,380.9 L195.5,381.0 L196.5,381.0 L197.5,381.1 L198.5,381.1 L199.5,381.1 L200.5,381.1 L201.5,381.2 L202.5,381.2 L203.5,381.2 L204.5,381.2 L205.5,381.3 L206.5,381.3 L207.5,381.3 L208.5,381.3 L209.5,381.3 L210.5,381.3 L211.5,381.4 L212.5,381.4 L213.5,381.4 L214.5,381.4 L215.5,381.4 L216.5,381.4 L217.5,381.4 L218.5,381.4 L219.5,381.4 L220.5,381.3 L221.5,381.3 L222.5,381.3 L223.5,381.3 L224.5,381.3 L225.5,381.3 L226.5,381.3 L227.5,381.2 L228.5,381.2 L229.5,381.2 L230.5,381.1 L231.5,381.1 L232.5,381.1 L233.5,381.0 L234.5,381.0 L235.5,381.0 L236.5,380.9 L237.5,380.9 L238.5,380.8 L239.5,380.8 L240.5,380.7 L241.5,380.6 L242.5,380.6 L243.5,380.5 L244.5,380.5 L245.5,380.4 L246.5,380.3 L247.5,380.2 L248.5,380.2 L249.5,380.1 L250.5,380.0 L251.5,379.9 L252.5,379.8 L253.5,379.7 L254.5,379.6 L255.5,379.5 L256.5,379.4 L257.5,379.3 L258.5,379.2 L259.5,379.1 L260.5,379.0 L261.5,378.8 L262.5,378.7 L263.5,378.6 L264.5,378.5 L265.5,378.3 L266.5,378.2 L267.5,378.0 L268.5,377.9 L269.5,377.7 L270.5,377.6 L271.5,377.4 L272.5,377.2 L273.5,377.1 L274.5,376.9 L275.5,376.7 L276.5,376.6 L277.5,376.4 L278.5,376.2 L279.5,376.0 L280.5,375.8 L281.5,375.6 L282.5,375.4 L283.5,375.2 L284.5,374.9 L285.5,374.7 L286.5,374.5 L287.5,374.3 L288.5,374.0 L289.5,373.8 L290.5,373.5 L291.5,373.3 L292.5,373.0 L293.5,372.8 L294.5,372.5 L295.5,372.2 L296.5,372.0 L297.5,371.7 L298.5,371.4 L299.5,371.1 L300.5,370.8 L301.5,370.5 L302.5,370.2 L303.5,369.9 L304.5,369.5 L305.5,369.2 L306.5,368.9 L307.5,368.5 L308.5,368.2 L309.5,367.8 L310.5,367.5 L311.5,367.1 L312.5,366.7 L313.5,366.4 L314.5,366.0 L315.5,365.6 L316.5,365.2 L317.5,364.8 L318.5,364.4 L319.5,364.0 L320.5,363.6 L321.5,363.1 L322.5,362.7 L323.5,362.3 L324.5,361.8 L325.5,361.4 L326.5,360.9 L327.5,360.4 L328.5,360.0 L329.5,359.5 L330.5,359.0 L331.5,358.5 L332.5,358.0 L333.5,357.5 L334.5,357.0 L335.5,356.5 L336.5,355.9 L337.5,355.4 L338.5,354.8 L339.5,354.3 L340.5,353.7 L341.5,353.1 L342.5,352.6 L343.5,352.0 L344.5,351.4 L345.5,350.8 L346.5,350.2 L347.5,349.5 L348.5,348.9 L349.5,348.2 L350.5,347.6 L351.5,346.9 L352.5,346.2 L353.5,345.5 L354.5,344.8 L355.5,344.1 L356.5,343.4 L357.5,342.7 L358.5,341.9 L359.5,341.1 L360.5,340.3 L361.5,339.5 L362.5,338.7 L363.5,337.9 L364.5,337.0 L365.5,336.2 L366.5,335.3 L367.5,334.4 L368.5,333.4 L369.5,332.5 L370.5,331.5 L371.5,330.5 L372.5,329.5 L373.5,328.5 L374.5,327.4 L375.5,326.3 L376.5,325.2 L377.5,324.0 L378.5,322.8 L379.5,321.6 L380.5,320.3 L381.5,319.1 L382.5,317.7 L383.5,316.4 L384.5,315.0 L385.5,313.6 L386.5,312.1 L387.5,310.6 L388.5,309.0 L389.5,307.4 L390.5,305.8 L391.5,304.1 L392.5,302.4 L393.5,300.6 L394.5,298.7 L395.5,296.9 L396.5,294.9 L397.5,293.0 L398.5,290.9 L399.5,288.8 L400.5,286.7 L401.5,284.5 L402.5,282.2 L403.5,279.9 L404.5,277.6 L405.5,275.2 L406.5,272.7 L407.5,270.2 L408.5,267.6 L409.5,265.0 L410.5,262.3 L411.5,259.5 L412.5,256.7 L413.5,253.9 L414.5,251.0 L415.5,248.0 L416.5,245.0 L417.5,242.0 L418.5,238.9 L419.5,235.8 L420.5,232.6 L421.5,229.4 L422.5,226.2 L423.5,222.9 L424.5,219.6 L425.5,216.3 L426.5,212.9 L427.5,209.6 L428.5,206.2 L429.5,202.8 L430.5,199.4 L431.5,196.0 L432.5,192.6 L433.5,189.2 L434.5,185.8 L435.5,182.4 L436.5,179.1 L437.5,175.7 L438.5,172.4 L439.5,169.2 L440.5,166.0 L441.5,162.8 L442.5,159.7 L443.5,156.6 L444.5,153.6 L445.5,150.6 L446.5,147.7 L447.5,144.9 L448.5,142.2 L449.5,139.6 L450.5,137.0 L451.5,134.5 L452.5,132.2 L453.5,129.9 L454.5,127.8 L455.5,125.7 L456.5,123.8 L457.5,122.0 L458.5,120.3 L459.5,118.7 L460.5,117.2 L461.5,115.9 L462.5,114.7 L463.5,113.6 L464.5,112.7 L465.5,111.9 L466.5,111.2 L467.5,110.7 L468.5,110.3 L469.5,110.0 L470.5,109.9 L471.5,109.8 L472.5,110.0 L473.5,110.2 L474.5,110.6 L475.5,111.1 L476.5,111.7 L477.5,112.4 L478.5,113.3 L479.5,114.2 L480.5,115.3 L481.5,116.5 L482.5,117.7 L483.5,119.1 L484.5,120.6 L485.5,122.1 L486.5,123.7 L487.5,125.4 L488.5,127.2 L489.5,129.0 L490.5,130.9 L491.5,132.9 L492.5,134.9 L493.5,137.0 L494.5,139.1 L495.5,141.2 L496.5,143.4 L497.5,145.6 L498.5,147.9 L499.5,150.1 L500.5,152.4 L501.5,154.7 L502.5,157.0 L503.5,159.3 L504.5,161.6 L505.5,163.9 L506.5,166.2 L507.5,168.5 L508.5,170.8 L509.5,173.1 L510.5,175.4 L511.5,177.6 L512.5,179.9 L513.5,182.1 L514.5,184.4 L515.5,186.6 L516.5,188.8 L517.5,191.0 L518.5,193.1 L519.5,195.3 L520.5,197.4 L521.5,199.5 L522.5,201.6 L523.5,203.7 L524.5,205.8 L525.5,207.8 L526.5,209.9 L527.5,211.9 L528.5,213.9 L529.5,215.9 L530.5,217.9 L531.5,219.8 L532.5,221.7 L533.5,223.7 L534.5,225.6 L535.5,227.5 L536.5,229.3 L537.5,231.2 L538.5,233.0 L539.5,234.8 L540.5,236.6 L541.5,238.3 L542.5,240.0 L543.5,241.7 L544.5,243.4 L545.5,245.1 L546.5,246.7 L547.5,248.2 L548.5,249.8 L549.5,251.3 L550.5,252.8 L551.5,254.2 L552.5,255.6 L553.5,257.0 L554.5,258.3 L555.5,259.6 L556.5,260.8 L557.5,262.0 L558.5,263.2 L559.5,264.3 L560.5,265.4 L561.5,266.4 L562.5,267.4 L563.5,268.3 L564.5,269.2 L565.5,270.1 L566.5,270.9 L567.5,271.6 L568.5,272.4 L569.5,273.1 L570.5,273.7 L571.5,274.3 L572.5,274.9 L573.5,275.4 L574.5,275.9 L575.5,276.4 L576.5,276.8 L577.5,277.2 L578.5,277.6 L579.5,278.0 L580.5,278.3 L581.5,278.6 L582.5,278.8 L583.5,279.0 L584.5,279.3 L585.5,279.4 L586.5,279.6 L587.5,279.7 L587.7,279.8" fill="none" stroke="#383838" stroke-width="2.6" stroke-linejoin="round" stroke-linecap="round"/>
<path d="M155.5,380.1 L156.5,380.2 L157.5,380.3 L158.5,380.3 L159.5,380.4 L160.5,380.4 L161.5,380.5 L162.5,380.6 L163.5,380.6 L164.5,380.7 L165.5,380.7 L166.5,380.8 L167.5,380.8 L168.5,380.9 L169.5,380.9 L170.5,380.9 L171.5,381.0 L172.5,381.0 L173.5,381.1 L174.5,381.1 L175.5,381.1 L176.5,381.2 L177.5,381.2 L178.5,381.2 L179.5,381.3 L180.5,381.3 L181.5,381.3 L182.5,381.4 L183.5,381.4 L184.5,381.4 L185.5,381.4 L186.5,381.4 L187.5,381.5 L188.5,381.5 L189.5,381.5 L190.5,381.5 L191.5,381.5 L192.5,381.5 L193.5,381.5 L194.5,381.5 L195.5,381.6 L196.5,381.6 L197.5,381.6 L198.5,381.6 L199.5,381.6 L200.5,381.6 L201.5,381.5 L202.5,381.5 L203.5,381.5 L204.5,381.5 L205.5,381.5 L206.5,381.5 L207.5,381.5 L208.5,381.5 L209.5,381.4 L210.5,381.4 L211.5,381.4 L212.5,381.4 L213.5,381.3 L214.5,381.3 L215.5,381.3 L216.5,381.2 L217.5,381.2 L218.5,381.2 L219.5,381.1 L220.5,381.1 L221.5,381.0 L222.5,381.0 L223.5,380.9 L224.5,380.9 L225.5,380.8 L226.5,380.8 L227.5,380.7 L228.5,380.6 L229.5,380.6 L230.5,380.5 L231.5,380.4 L232.5,380.4 L233.5,380.3 L234.5,380.2 L235.5,380.1 L236.5,380.1 L237.5,380.0 L238.5,379.9 L239.5,379.8 L240.5,379.7 L241.5,379.6 L242.5,379.5 L243.5,379.4 L244.5,379.3 L245.5,379.2 L246.5,379.1 L247.5,378.9 L248.5,378.8 L249.5,378.7 L250.5,378.6 L251.5,378.5 L252.5,378.3 L253.5,378.2 L254.5,378.0 L255.5,377.9 L256.5,377.8 L257.5,377.6 L258.5,377.4 L259.5,377.3 L260.5,377.1 L261.5,377.0 L262.5,376.8 L263.5,376.6 L264.5,376.4 L265.5,376.3 L266.5,376.1 L267.5,375.9 L268.5,375.7 L269.5,375.5 L270.5,375.3 L271.5,375.1 L272.5,374.9 L273.5,374.6 L274.5,374.4 L275.5,374.2 L276.5,374.0 L277.5,373.7 L278.5,373.5 L279.5,373.2 L280.5,373.0 L281.5,372.7 L282.5,372.5 L283.5,372.2 L284.5,371.9 L285.5,371.6 L286.5,371.4 L287.5,371.1 L288.5,370.8 L289.5,370.5 L290.5,370.2 L291.5,369.9 L292.5,369.5 L293.5,369.2 L294.5,368.9 L295.5,368.6 L296.5,368.2 L297.5,367.9 L298.5,367.5 L299.5,367.2 L300.5,366.8 L301.5,366.4 L302.5,366.1 L303.5,365.7 L304.5,365.3 L305.5,364.9 L306.5,364.5 L307.5,364.1 L308.5,363.7 L309.5,363.2 L310.5,362.8 L311.5,362.4 L312.5,361.9 L313.5,361.5 L314.5,361.0 L315.5,360.6 L316.5,360.1 L317.5,359.6 L318.5,359.1 L319.5,358.6 L320.5,358.1 L321.5,357.6 L322.5,357.1 L323.5,356.6 L324.5,356.0 L325.5,355.5 L326.5,355.0 L327.5,354.4 L328.5,353.8 L329.5,353.3 L330.5,352.7 L331.5,352.1 L332.5,351.5 L333.5,350.9 L334.5,350.3 L335.5,349.7 L336.5,349.0 L337.5,348.4 L338.5,347.8 L339.5,347.1 L340.5,346.4 L341.5,345.7 L342.5,345.1 L343.5,344.4 L344.5,343.6 L345.5,342.9 L346.5,342.2 L347.5,341.4 L348.5,340.7 L349.5,339.9 L350.5,339.1 L351.5,338.3 L352.5,337.5 L353.5,336.7 L354.5,335.8 L355.5,335.0 L356.5,334.1 L357.5,333.2 L358.5,332.3 L359.5,331.4 L360.5,330.5 L361.5,329.5 L362.5,328.5 L363.5,327.5 L364.5,326.5 L365.5,325.4 L366.5,324.4 L367.5,323.3 L368.5,322.1 L369.5,321.0 L370.5,319.8 L371.5,318.6 L372.5,317.4 L373.5,316.1 L374.5,314.8 L375.5,313.5 L376.5,312.1 L377.5,310.7 L378.5,309.2 L379.5,307.8 L380.5,306.2 L381.5,304.7 L382.5,303.1 L383.5,301.4 L384.5,299.7 L385.5,298.0 L386.5,296.2 L387.5,294.4 L388.5,292.5 L389.5,290.5 L390.5,288.5 L391.5,286.5 L392.5,284.4 L393.5,282.2 L394.5,280.0 L395.5,277.7 L396.5,275.4 L397.5,273.0 L398.5,270.5 L399.5,268.0 L400.5,265.4 L401.5,262.8 L402.5,260.1 L403.5,257.3 L404.5,254.5 L405.5,251.6 L406.5,248.6 L407.5,245.6 L408.5,242.5 L409.5,239.4 L410.5,236.2 L411.5,232.9 L412.5,229.6 L413.5,226.2 L414.5,222.8 L415.5,219.3 L416.5,215.8 L417.5,212.2 L418.5,208.6 L419.5,204.9 L420.5,201.2 L421.5,197.4 L422.5,193.7 L423.5,189.9 L424.5,186.0 L425.5,182.2 L426.5,178.3 L427.5,174.4 L428.5,170.5 L429.5,166.6 L430.5,162.7 L431.5,158.8 L432.5,154.9 L433.5,151.0 L434.5,147.2 L435.5,143.3 L436.5,139.5 L437.5,135.8 L438.5,132.1 L439.5,128.4 L440.5,124.8 L441.5,121.2 L442.5,117.7 L443.5,114.3 L444.5,111.0 L445.5,107.7 L446.5,104.5 L447.5,101.4 L448.5,98.5 L449.5,95.6 L450.5,92.8 L451.5,90.1 L452.5,87.6 L453.5,85.1 L454.5,82.8 L455.5,80.6 L456.5,78.6 L457.5,76.6 L458.5,74.9 L459.5,73.2 L460.5,71.7 L461.5,70.3 L462.5,69.1 L463.5,68.0 L464.5,67.1 L465.5,66.3 L466.5,65.6 L467.5,65.1 L468.5,64.8 L469.5,64.6 L470.5,64.5 L471.5,64.6 L472.5,64.8 L473.5,65.1 L474.5,65.6 L475.5,66.2 L476.5,67.0 L477.5,67.8 L478.5,68.8 L479.5,69.9 L480.5,71.1 L481.5,72.5 L482.5,73.9 L483.5,75.5 L484.5,77.1 L485.5,78.8 L486.5,80.6 L487.5,82.5 L488.5,84.5 L489.5,86.6 L490.5,88.7 L491.5,90.9 L492.5,93.1 L493.5,95.5 L494.5,97.8 L495.5,100.2 L496.5,102.7 L497.5,105.1 L498.5,107.7 L499.5,110.2 L500.5,112.8 L501.5,115.4 L502.5,118.0 L503.5,120.6 L504.5,123.3 L505.5,125.9 L506.5,128.6 L507.5,131.3 L508.5,133.9 L509.5,136.6 L510.5,139.3 L511.5,141.9 L512.5,144.6 L513.5,147.2 L514.5,149.9 L515.5,152.5 L516.5,155.1 L517.5,157.8 L518.5,160.4 L519.5,162.9 L520.5,165.5 L521.5,168.0 L522.5,170.6 L523.5,173.1 L524.5,175.6 L525.5,178.0 L526.5,180.5 L527.5,182.9 L528.5,185.3 L529.5,187.7 L530.5,190.0 L531.5,192.3 L532.5,194.6 L533.5,196.9 L534.5,199.1 L535.5,201.3 L536.5,203.5 L537.5,205.6 L538.5,207.7 L539.5,209.8 L540.5,211.9 L541.5,213.9 L542.5,215.8 L543.5,217.8 L544.5,219.7 L545.5,221.5 L546.5,223.3 L547.5,225.1 L548.5,226.8 L549.5,228.5 L550.5,230.2 L551.5,231.8 L552.5,233.3 L553.5,234.8 L554.5,236.3 L555.5,237.7 L556.5,239.1 L557.5,240.5 L558.5,241.7 L559.5,243.0 L560.5,244.2 L561.5,245.4 L562.5,246.5 L563.5,247.5 L564.5,248.6 L565.5,249.6 L566.5,250.5 L567.5,251.4 L568.5,252.3 L569.5,253.1 L570.5,253.9 L571.5,254.6 L572.5,255.3 L573.5,256.0 L574.5,256.6 L575.5,257.2 L576.5,257.8 L577.5,258.3 L578.5,258.8 L579.5,259.3 L580.5,259.8 L581.5,260.2 L582.5,260.6 L583.5,260.9 L584.5,261.2 L585.5,261.6 L586.5,261.8 L587.5,262.1 L587.7,262.2" fill="none" stroke="#e24e4c" stroke-width="2.6" stroke-linejoin="round" stroke-linecap="round"/>
<line x1="749.60" y1="24.00" x2="749.60" y2="420.10" stroke="#333333" stroke-width="2.5"/>
<line x1="748.50" y1="419.10" x2="1280.00" y2="419.10" stroke="#333333" stroke-width="2.5"/>
<line x1="741.40" y1="419.10" x2="749.60" y2="419.10" stroke="#333333" stroke-width="2"/>
<text x="737.0" y="425.5" font-family="'Liberation Sans', sans-serif" font-weight="bold" font-size="22" text-anchor="end" fill="#232323" textLength="31.5" lengthAdjust="spacingAndGlyphs" stroke="#232323" stroke-width="0.6">0.0</text>
<line x1="745.80" y1="369.85" x2="749.60" y2="369.85" stroke="#333333" stroke-width="2"/>
<line x1="741.40" y1="320.60" x2="749.60" y2="320.60" stroke="#333333" stroke-width="2"/>
<text x="737.0" y="327.0" font-family="'Liberation Sans', sans-serif" font-weight="bold" font-size="22" text-anchor="end" fill="#232323" textLength="31.5" lengthAdjust="spacingAndGlyphs" stroke="#232323" stroke-width="0.6">0.1</text>
<line x1="745.80" y1="271.35" x2="749.60" y2="271.35" stroke="#333333" stroke-width="2"/>
<line x1="741.40" y1="222.10" x2="749.60" y2="222.10" stroke="#333333" stroke-width="2"/>
<text x="737.0" y="228.5" font-family="'Liberation Sans', sans-serif" font-weight="bold" font-size="22" text-anchor="end" fill="#232323" textLength="31.5" lengthAdjust="spacingAndGlyphs" stroke="#232323" stroke-width="0.6">0.2</text>
<line x1="745.80" y1="172.85" x2="749.60" y2="172.85" stroke="#333333" stroke-width="2"/>
<line x1="741.40" y1="123.60" x2="749.60" y2="123.60" stroke="#333333" stroke-width="2"/>
<text x="737.0" y="130.0" font-family="'Liberation Sans', sans-serif" font-weight="bold" font-size="22" text-anchor="end" fill="#232323" textLength="31.5" lengthAdjust="spacingAndGlyphs" stroke="#232323" stroke-width="0.6">0.3</text>
<line x1="745.80" y1="74.35" x2="749.60" y2="74.35" stroke="#333333" stroke-width="2"/>
<line x1="741.40" y1="25.10" x2="749.60" y2="25.10" stroke="#333333" stroke-width="2"/>
<text x="737.0" y="31.5" font-family="'Liberation Sans', sans-serif" font-weight="bold" font-size="22" text-anchor="end" fill="#232323" textLength="31.5" lengthAdjust="spacingAndGlyphs" stroke="#232323" stroke-width="0.6">0.4</text>
<rect x="761.8" y="125.6" width="83.0" height="293.5" fill="#b9b9b9" stroke="#6e6e6e" stroke-width="2"/>
<line x1="803.30" y1="116.90" x2="803.30" y2="134.10" stroke="#666666" stroke-width="1.2"/>
<line x1="799.10" y1="116.90" x2="807.50" y2="116.90" stroke="#666666" stroke-width="1.2"/>
<line x1="799.10" y1="134.10" x2="807.50" y2="134.10" stroke="#666666" stroke-width="1.2"/>
<text transform="translate(795.0,356.4) rotate(-90)" font-family="'Liberation Sans', sans-serif" font-weight="bold" font-size="23" text-anchor="start" fill="#232323" textLength="24.1" lengthAdjust="spacingAndGlyphs" stroke="#232323" stroke-width="0.6">Pt</text>
<text transform="translate(804.5,333.0) rotate(-90)" font-family="'Liberation Sans', sans-serif" font-weight="bold" font-size="12" text-anchor="start" fill="#232323" textLength="9.1" lengthAdjust="spacingAndGlyphs" stroke="#232323" stroke-width="0.6">3</text>
<text transform="translate(795.0,323.8) rotate(-90)" font-family="'Liberation Sans', sans-serif" font-weight="bold" font-size="23" text-anchor="start" fill="#232323" textLength="31.1" lengthAdjust="spacingAndGlyphs" stroke="#232323" stroke-width="0.6">Ru</text>
<text transform="translate(804.5,292.7) rotate(-90)" font-family="'Liberation Sans', sans-serif" font-weight="bold" font-size="12" text-anchor="start" fill="#232323" textLength="6.8" lengthAdjust="spacingAndGlyphs" stroke="#232323" stroke-width="0.6">1</text>
<text transform="translate(795.0,285.3) rotate(-90)" font-family="'Liberation Sans', sans-serif" font-weight="bold" font-size="23" text-anchor="start" fill="#232323" textLength="23.5" lengthAdjust="spacingAndGlyphs" stroke="#232323" stroke-width="1.0">@</text>
<text transform="translate(795.0,260.2) rotate(-90)" font-family="'Liberation Sans', sans-serif" font-weight="bold" font-size="23" text-anchor="start" fill="#232323" textLength="85.4" lengthAdjust="spacingAndGlyphs" stroke="#232323" stroke-width="0.6">PdCu/C</text>
<rect x="867.5" y="75.2" width="83.5" height="343.9" fill="#b9b9b9" stroke="#6e6e6e" stroke-width="2"/>
<line x1="909.50" y1="65.90" x2="909.50" y2="84.50" stroke="#666666" stroke-width="1.2"/>
<line x1="905.30" y1="65.90" x2="913.70" y2="65.90" stroke="#666666" stroke-width="1.2"/>
<line x1="905.30" y1="84.50" x2="913.70" y2="84.50" stroke="#666666" stroke-width="1.2"/>
<text transform="translate(900.8,359.8) rotate(-90)" font-family="'Liberation Sans', sans-serif" font-weight="bold" font-size="23" text-anchor="start" fill="#232323" textLength="24.1" lengthAdjust="spacingAndGlyphs" stroke="#232323" stroke-width="0.6">Pt</text>
<text transform="translate(910.2,336.4) rotate(-90)" font-family="'Liberation Sans', sans-serif" font-weight="bold" font-size="12" text-anchor="start" fill="#232323" textLength="9.1" lengthAdjust="spacingAndGlyphs" stroke="#232323" stroke-width="0.6">2</text>
<text transform="translate(900.8,327.2) rotate(-90)" font-family="'Liberation Sans', sans-serif" font-weight="bold" font-size="23" text-anchor="start" fill="#232323" textLength="31.1" lengthAdjust="spacingAndGlyphs" stroke="#232323" stroke-width="0.6">Ru</text>
<text transform="translate(910.2,296.1) rotate(-90)" font-family="'Liberation Sans', sans-serif" font-weight="bold" font-size="12" text-anchor="start" fill="#232323" textLength="6.8" lengthAdjust="spacingAndGlyphs" stroke="#232323" stroke-width="0.6">1</text>
<text transform="translate(900.8,288.7) rotate(-90)" font-family="'Liberation Sans', sans-serif" font-weight="bold" font-size="23" text-anchor="start" fill="#232323" textLength="23.5" lengthAdjust="spacingAndGlyphs" stroke="#232323" stroke-width="1.0">@</text>
<text transform="translate(900.8,263.6) rotate(-90)" font-family="'Liberation Sans', sans-serif" font-weight="bold" font-size="23" text-anchor="start" fill="#232323" textLength="85.4" lengthAdjust="spacingAndGlyphs" stroke="#232323" stroke-width="0.6">PdCu/C</text>
<rect x="972.9" y="106.2" width="83.8" height="312.9" fill="#b9b9b9" stroke="#6e6e6e" stroke-width="2"/>
<line x1="1014.90" y1="95.60" x2="1014.90" y2="115.50" stroke="#666666" stroke-width="1.2"/>
<line x1="1010.70" y1="95.60" x2="1019.10" y2="95.60" stroke="#666666" stroke-width="1.2"/>
<line x1="1010.70" y1="115.50" x2="1019.10" y2="115.50" stroke="#666666" stroke-width="1.2"/>
<text transform="translate(1006.5,359.8) rotate(-90)" font-family="'Liberation Sans', sans-serif" font-weight="bold" font-size="23" text-anchor="start" fill="#232323" textLength="24.1" lengthAdjust="spacingAndGlyphs" stroke="#232323" stroke-width="0.6">Pt</text>
<text transform="translate(1016.0,336.4) rotate(-90)" font-family="'Liberation Sans', sans-serif" font-weight="bold" font-size="12" text-anchor="start" fill="#232323" textLength="9.1" lengthAdjust="spacingAndGlyphs" stroke="#232323" stroke-width="0.6">1</text>
<text transform="translate(1006.5,327.2) rotate(-90)" font-family="'Liberation Sans', sans-serif" font-weight="bold" font-size="23" text-anchor="start" fill="#232323" textLength="31.1" lengthAdjust="spacingAndGlyphs" stroke="#232323" stroke-width="0.6">Ru</text>
<text transform="translate(1016.0,296.1) rotate(-90)" font-family="'Liberation Sans', sans-serif" font-weight="bold" font-size="12" text-anchor="start" fill="#232323" textLength="6.8" lengthAdjust="spacingAndGlyphs" stroke="#232323" stroke-width="0.6">1</text>
<text transform="translate(1006.5,288.7) rotate(-90)" font-family="'Liberation Sans', sans-serif" font-weight="bold" font-size="23" text-anchor="start" fill="#232323" textLength="23.5" lengthAdjust="spacingAndGlyphs" stroke="#232323" stroke-width="1.0">@</text>
<text transform="translate(1006.5,263.6) rotate(-90)" font-family="'Liberation Sans', sans-serif" font-weight="bold" font-size="23" text-anchor="start" fill="#232323" textLength="85.4" lengthAdjust="spacingAndGlyphs" stroke="#232323" stroke-width="0.6">PdCu/C</text>
<rect x="1078.6" y="163.9" width="83.0" height="255.2" fill="#b9b9b9" stroke="#6e6e6e" stroke-width="2"/>
<line x1="1120.60" y1="155.40" x2="1120.60" y2="172.60" stroke="#666666" stroke-width="1.2"/>
<line x1="1116.40" y1="155.40" x2="1124.80" y2="155.40" stroke="#666666" stroke-width="1.2"/>
<line x1="1116.40" y1="172.60" x2="1124.80" y2="172.60" stroke="#666666" stroke-width="1.2"/>
<text transform="translate(1112.2,383.3) rotate(-90)" font-family="'Liberation Sans', sans-serif" font-weight="bold" font-size="23" text-anchor="start" fill="#232323" textLength="24.1" lengthAdjust="spacingAndGlyphs" stroke="#232323" stroke-width="0.6">Pt</text>
<text transform="translate(1121.8,359.9) rotate(-90)" font-family="'Liberation Sans', sans-serif" font-weight="bold" font-size="12" text-anchor="start" fill="#232323" textLength="9.1" lengthAdjust="spacingAndGlyphs" stroke="#232323" stroke-width="0.6">1</text>
<text transform="translate(1112.2,350.7) rotate(-90)" font-family="'Liberation Sans', sans-serif" font-weight="bold" font-size="23" text-anchor="start" fill="#232323" textLength="31.1" lengthAdjust="spacingAndGlyphs" stroke="#232323" stroke-width="0.6">Ru</text>
<text transform="translate(1121.8,319.6) rotate(-90)" font-family="'Liberation Sans', sans-serif" font-weight="bold" font-size="12" text-anchor="start" fill="#232323" textLength="8.3" lengthAdjust="spacingAndGlyphs" stroke="#232323" stroke-width="0.6">2</text>
<text transform="translate(1112.2,312.2) rotate(-90)" font-family="'Liberation Sans', sans-serif" font-weight="bold" font-size="23" text-anchor="start" fill="#232323" textLength="23.5" lengthAdjust="spacingAndGlyphs" stroke="#232323" stroke-width="1.0">@</text>
<text transform="translate(1112.2,287.1) rotate(-90)" font-family="'Liberation Sans', sans-serif" font-weight="bold" font-size="23" text-anchor="start" fill="#232323" textLength="85.4" lengthAdjust="spacingAndGlyphs" stroke="#232323" stroke-width="0.6">PdCu/C</text>
<rect x="1184.8" y="205.0" width="83.0" height="214.1" fill="#b9b9b9" stroke="#6e6e6e" stroke-width="2"/>
<line x1="1226.00" y1="195.20" x2="1226.00" y2="214.60" stroke="#666666" stroke-width="1.2"/>
<line x1="1221.80" y1="195.20" x2="1230.20" y2="195.20" stroke="#666666" stroke-width="1.2"/>
<line x1="1221.80" y1="214.60" x2="1230.20" y2="214.60" stroke="#666666" stroke-width="1.2"/>
<text transform="translate(1218.0,402.8) rotate(-90)" font-family="'Liberation Sans', sans-serif" font-weight="bold" font-size="23" text-anchor="start" fill="#232323" textLength="24.1" lengthAdjust="spacingAndGlyphs" stroke="#232323" stroke-width="0.6">Pt</text>
<text transform="translate(1227.5,379.4) rotate(-90)" font-family="'Liberation Sans', sans-serif" font-weight="bold" font-size="12" text-anchor="start" fill="#232323" textLength="9.1" lengthAdjust="spacingAndGlyphs" stroke="#232323" stroke-width="0.6">1</text>
<text transform="translate(1218.0,370.2) rotate(-90)" font-family="'Liberation Sans', sans-serif" font-weight="bold" font-size="23" text-anchor="start" fill="#232323" textLength="31.1" lengthAdjust="spacingAndGlyphs" stroke="#232323" stroke-width="0.6">Ru</text>
<text transform="translate(1227.5,339.1) rotate(-90)" font-family="'Liberation Sans', sans-serif" font-weight="bold" font-size="12" text-anchor="start" fill="#232323" textLength="8.3" lengthAdjust="spacingAndGlyphs" stroke="#232323" stroke-width="0.6">3</text>
<text transform="translate(1218.0,331.7) rotate(-90)" font-family="'Liberation Sans', sans-serif" font-weight="bold" font-size="23" text-anchor="start" fill="#232323" textLength="23.5" lengthAdjust="spacingAndGlyphs" stroke="#232323" stroke-width="1.0">@</text>
<text transform="translate(1218.0,306.6) rotate(-90)" font-family="'Liberation Sans', sans-serif" font-weight="bold" font-size="23" text-anchor="start" fill="#232323" textLength="85.4" lengthAdjust="spacingAndGlyphs" stroke="#232323" stroke-width="0.6">PdCu/C</text>
<text x="1002.0" y="466.4" font-family="'Liberation Sans', sans-serif" font-weight="bold" font-size="23" text-anchor="middle" fill="#232323" textLength="94.5" lengthAdjust="spacingAndGlyphs" stroke="#232323" stroke-width="0.6">Samples</text>
<text transform="translate(654.0,368.5) rotate(-90)" font-family="'Liberation Sans', sans-serif" font-weight="bold" font-size="24" text-anchor="start" fill="#232323" textLength="232.0" lengthAdjust="spacingAndGlyphs" stroke="#232323" stroke-width="0.6">Mass Activity / A mg</text>
<text transform="translate(640.2,136.3) rotate(-90)" font-family="'Liberation Sans', sans-serif" font-weight="bold" font-size="11.5" text-anchor="start" fill="#232323" textLength="11.5" lengthAdjust="spacingAndGlyphs" stroke="#232323" stroke-width="0.6">-1</text>
<text transform="translate(663.5,123.8) rotate(-90)" font-family="'Liberation Sans', sans-serif" font-weight="bold" font-size="14" text-anchor="start" fill="#232323" textLength="102.5" lengthAdjust="spacingAndGlyphs" stroke="#232323" stroke-width="0.6">Precious metal</text>
<text x="1238.6" y="55.2" font-family="'Liberation Sans', sans-serif" font-weight="bold" font-size="40" text-anchor="start" fill="#232323" textLength="25.0" lengthAdjust="spacingAndGlyphs" stroke="#232323" stroke-width="0.6">b</text>
<line x1="101.00" y1="524.50" x2="101.00" y2="914.30" stroke="#333333" stroke-width="2.5"/>
<line x1="99.90" y1="913.30" x2="620.50" y2="913.30" stroke="#333333" stroke-width="2.5"/>
<line x1="93.00" y1="900.80" x2="101.00" y2="900.80" stroke="#333333" stroke-width="2"/>
<text x="87.5" y="907.2" font-family="'Liberation Sans', sans-serif" font-weight="bold" font-size="22" text-anchor="end" fill="#232323" textLength="31.0" lengthAdjust="spacingAndGlyphs" stroke="#232323" stroke-width="0.6">0.0</text>
<line x1="96.50" y1="871.40" x2="101.00" y2="871.40" stroke="#333333" stroke-width="2"/>
<line x1="93.00" y1="842.00" x2="101.00" y2="842.00" stroke="#333333" stroke-width="2"/>
<text x="87.5" y="848.4" font-family="'Liberation Sans', sans-serif" font-weight="bold" font-size="22" text-anchor="end" fill="#232323" textLength="31.0" lengthAdjust="spacingAndGlyphs" stroke="#232323" stroke-width="0.6">0.5</text>
<line x1="96.50" y1="812.60" x2="101.00" y2="812.60" stroke="#333333" stroke-width="2"/>
<line x1="93.00" y1="783.20" x2="101.00" y2="783.20" stroke="#333333" stroke-width="2"/>
<text x="87.5" y="789.6" font-family="'Liberation Sans', sans-serif" font-weight="bold" font-size="22" text-anchor="end" fill="#232323" textLength="31.0" lengthAdjust="spacingAndGlyphs" stroke="#232323" stroke-width="0.6">1.0</text>
<line x1="96.50" y1="753.80" x2="101.00" y2="753.80" stroke="#333333" stroke-width="2"/>
<line x1="93.00" y1="724.40" x2="101.00" y2="724.40" stroke="#333333" stroke-width="2"/>
<text x="87.5" y="730.8" font-family="'Liberation Sans', sans-serif" font-weight="bold" font-size="22" text-anchor="end" fill="#232323" textLength="31.0" lengthAdjust="spacingAndGlyphs" stroke="#232323" stroke-width="0.6">1.5</text>
<line x1="96.50" y1="695.00" x2="101.00" y2="695.00" stroke="#333333" stroke-width="2"/>
<line x1="93.00" y1="665.60" x2="101.00" y2="665.60" stroke="#333333" stroke-width="2"/>
<text x="87.5" y="672.0" font-family="'Liberation Sans', sans-serif" font-weight="bold" font-size="22" text-anchor="end" fill="#232323" textLength="31.0" lengthAdjust="spacingAndGlyphs" stroke="#232323" stroke-width="0.6">2.0</text>
<line x1="96.50" y1="636.20" x2="101.00" y2="636.20" stroke="#333333" stroke-width="2"/>
<line x1="93.00" y1="606.80" x2="101.00" y2="606.80" stroke="#333333" stroke-width="2"/>
<text x="87.5" y="613.2" font-family="'Liberation Sans', sans-serif" font-weight="bold" font-size="22" text-anchor="end" fill="#232323" textLength="31.0" lengthAdjust="spacingAndGlyphs" stroke="#232323" stroke-width="0.6">2.5</text>
<line x1="96.50" y1="577.40" x2="101.00" y2="577.40" stroke="#333333" stroke-width="2"/>
<line x1="93.00" y1="548.00" x2="101.00" y2="548.00" stroke="#333333" stroke-width="2"/>
<text x="87.5" y="554.4" font-family="'Liberation Sans', sans-serif" font-weight="bold" font-size="22" text-anchor="end" fill="#232323" textLength="31.0" lengthAdjust="spacingAndGlyphs" stroke="#232323" stroke-width="0.6">3.0</text>
<line x1="152.50" y1="913.30" x2="152.50" y2="919.50" stroke="#333333" stroke-width="2"/>
<text x="152.5" y="944.5" font-family="'Liberation Sans', sans-serif" font-weight="bold" font-size="22" text-anchor="middle" fill="#232323" textLength="31.0" lengthAdjust="spacingAndGlyphs" stroke="#232323" stroke-width="0.6">0.0</text>
<line x1="204.75" y1="913.30" x2="204.75" y2="916.80" stroke="#333333" stroke-width="2"/>
<line x1="257.00" y1="913.30" x2="257.00" y2="919.50" stroke="#333333" stroke-width="2"/>
<text x="257.0" y="944.5" font-family="'Liberation Sans', sans-serif" font-weight="bold" font-size="22" text-anchor="middle" fill="#232323" textLength="31.0" lengthAdjust="spacingAndGlyphs" stroke="#232323" stroke-width="0.6">0.2</text>
<line x1="309.25" y1="913.30" x2="309.25" y2="916.80" stroke="#333333" stroke-width="2"/>
<line x1="361.50" y1="913.30" x2="361.50" y2="919.50" stroke="#333333" stroke-width="2"/>
<text x="361.5" y="944.5" font-family="'Liberation Sans', sans-serif" font-weight="bold" font-size="22" text-anchor="middle" fill="#232323" textLength="31.0" lengthAdjust="spacingAndGlyphs" stroke="#232323" stroke-width="0.6">0.4</text>
<line x1="413.75" y1="913.30" x2="413.75" y2="916.80" stroke="#333333" stroke-width="2"/>
<line x1="466.00" y1="913.30" x2="466.00" y2="919.50" stroke="#333333" stroke-width="2"/>
<text x="466.0" y="944.5" font-family="'Liberation Sans', sans-serif" font-weight="bold" font-size="22" text-anchor="middle" fill="#232323" textLength="31.0" lengthAdjust="spacingAndGlyphs" stroke="#232323" stroke-width="0.6">0.6</text>
<line x1="518.25" y1="913.30" x2="518.25" y2="916.80" stroke="#333333" stroke-width="2"/>
<line x1="570.50" y1="913.30" x2="570.50" y2="919.50" stroke="#333333" stroke-width="2"/>
<text x="570.5" y="944.5" font-family="'Liberation Sans', sans-serif" font-weight="bold" font-size="22" text-anchor="middle" fill="#232323" textLength="31.0" lengthAdjust="spacingAndGlyphs" stroke="#232323" stroke-width="0.6">0.8</text>
<text x="227.0" y="981.8" font-family="'Liberation Sans', sans-serif" font-weight="bold" font-size="23" text-anchor="start" fill="#232323" textLength="268.5" lengthAdjust="spacingAndGlyphs" stroke="#232323" stroke-width="0.6">Potential / V <tspan font-style="italic">vs.</tspan> Ag/AgCl</text>
<text transform="translate(29.2,866.8) rotate(-90)" font-family="'Liberation Sans', sans-serif" font-weight="bold" font-size="23.5" text-anchor="start" fill="#232323" textLength="277.0" lengthAdjust="spacingAndGlyphs" stroke="#232323" stroke-width="0.6">Specific Activity / mA cm</text>
<text transform="translate(15.8,589.2) rotate(-90)" font-family="'Liberation Sans', sans-serif" font-weight="bold" font-size="12" text-anchor="start" fill="#232323" textLength="11.8" lengthAdjust="spacingAndGlyphs" stroke="#232323" stroke-width="0.6">-2</text>
<text x="578.8" y="568.3" font-family="'Liberation Sans', sans-serif" font-weight="bold" font-size="37" text-anchor="start" fill="#232323" textLength="22.5" lengthAdjust="spacingAndGlyphs" stroke="#232323" stroke-width="0.6">c</text>
<line x1="126.00" y1="574.30" x2="167.80" y2="574.30" stroke="#383838" stroke-width="2.4"/>
<text x="172.5" y="580.9" font-family="'Liberation Serif', serif" font-weight="bold" font-size="23" text-anchor="start" fill="#232323" textLength="22.6" lengthAdjust="spacingAndGlyphs" stroke="#232323" stroke-width="0.6">Pt</text>
<text x="193.6" y="590.4" font-family="'Liberation Serif', serif" font-weight="bold" font-size="12" text-anchor="start" fill="#232323" textLength="8.6" lengthAdjust="spacingAndGlyphs" stroke="#232323" stroke-width="0.6">3</text>
<text x="201.5" y="580.9" font-family="'Liberation Serif', serif" font-weight="bold" font-size="23" text-anchor="start" fill="#232323" textLength="32.1" lengthAdjust="spacingAndGlyphs" stroke="#232323" stroke-width="0.6">Ru</text>
<text x="232.6" y="590.4" font-family="'Liberation Serif', serif" font-weight="bold" font-size="12" text-anchor="start" fill="#232323" textLength="6.1" lengthAdjust="spacingAndGlyphs" stroke="#232323" stroke-width="0.6">1</text>
<text x="238.9" y="580.9" font-family="'Liberation Serif', serif" font-weight="bold" font-size="23" text-anchor="start" fill="#232323" textLength="21.9" lengthAdjust="spacingAndGlyphs" stroke="#232323" stroke-width="0.9">@</text>
<text x="260.8" y="580.9" font-family="'Liberation Serif', serif" font-weight="bold" font-size="23" text-anchor="start" fill="#232323" textLength="82.0" lengthAdjust="spacingAndGlyphs" stroke="#232323" stroke-width="0.6">PdCu/C</text>
<line x1="126.00" y1="623.55" x2="167.80" y2="623.55" stroke="#e24e4c" stroke-width="2.4"/>
<text x="172.5" y="630.1" font-family="'Liberation Serif', serif" font-weight="bold" font-size="23" text-anchor="start" fill="#232323" textLength="22.6" lengthAdjust="spacingAndGlyphs" stroke="#232323" stroke-width="0.6">Pt</text>
<text x="193.6" y="639.6" font-family="'Liberation Serif', serif" font-weight="bold" font-size="12" text-anchor="start" fill="#232323" textLength="8.6" lengthAdjust="spacingAndGlyphs" stroke="#232323" stroke-width="0.6">2</text>
<text x="201.5" y="630.1" font-family="'Liberation Serif', serif" font-weight="bold" font-size="23" text-anchor="start" fill="#232323" textLength="32.1" lengthAdjust="spacingAndGlyphs" stroke="#232323" stroke-width="0.6">Ru</text>
<text x="232.6" y="639.6" font-family="'Liberation Serif', serif" font-weight="bold" font-size="12" text-anchor="start" fill="#232323" textLength="6.1" lengthAdjust="spacingAndGlyphs" stroke="#232323" stroke-width="0.6">1</text>
<text x="238.9" y="630.1" font-family="'Liberation Serif', serif" font-weight="bold" font-size="23" text-anchor="start" fill="#232323" textLength="21.9" lengthAdjust="spacingAndGlyphs" stroke="#232323" stroke-width="0.9">@</text>
<text x="260.8" y="630.1" font-family="'Liberation Serif', serif" font-weight="bold" font-size="23" text-anchor="start" fill="#232323" textLength="82.0" lengthAdjust="spacingAndGlyphs" stroke="#232323" stroke-width="0.6">PdCu/C</text>
<line x1="126.00" y1="672.80" x2="167.80" y2="672.80" stroke="#4d58aa" stroke-width="2.4"/>
<text x="172.5" y="679.4" font-family="'Liberation Serif', serif" font-weight="bold" font-size="23" text-anchor="start" fill="#232323" textLength="22.6" lengthAdjust="spacingAndGlyphs" stroke="#232323" stroke-width="0.6">Pt</text>
<text x="193.6" y="688.9" font-family="'Liberation Serif', serif" font-weight="bold" font-size="12" text-anchor="start" fill="#232323" textLength="8.6" lengthAdjust="spacingAndGlyphs" stroke="#232323" stroke-width="0.6">1</text>
<text x="201.5" y="679.4" font-family="'Liberation Serif', serif" font-weight="bold" font-size="23" text-anchor="start" fill="#232323" textLength="32.1" lengthAdjust="spacingAndGlyphs" stroke="#232323" stroke-width="0.6">Ru</text>
<text x="232.6" y="688.9" font-family="'Liberation Serif', serif" font-weight="bold" font-size="12" text-anchor="start" fill="#232323" textLength="6.1" lengthAdjust="spacingAndGlyphs" stroke="#232323" stroke-width="0.6">1</text>
<text x="238.9" y="679.4" font-family="'Liberation Serif', serif" font-weight="bold" font-size="23" text-anchor="start" fill="#232323" textLength="21.9" lengthAdjust="spacingAndGlyphs" stroke="#232323" stroke-width="0.9">@</text>
<text x="260.8" y="679.4" font-family="'Liberation Serif', serif" font-weight="bold" font-size="23" text-anchor="start" fill="#232323" textLength="82.0" lengthAdjust="spacingAndGlyphs" stroke="#232323" stroke-width="0.6">PdCu/C</text>
<line x1="126.00" y1="722.05" x2="167.80" y2="722.05" stroke="#3d9488" stroke-width="2.4"/>
<text x="172.5" y="728.6" font-family="'Liberation Serif', serif" font-weight="bold" font-size="23" text-anchor="start" fill="#232323" textLength="22.6" lengthAdjust="spacingAndGlyphs" stroke="#232323" stroke-width="0.6">Pt</text>
<text x="193.6" y="738.1" font-family="'Liberation Serif', serif" font-weight="bold" font-size="12" text-anchor="start" fill="#232323" textLength="8.6" lengthAdjust="spacingAndGlyphs" stroke="#232323" stroke-width="0.6">1</text>
<text x="201.5" y="728.6" font-family="'Liberation Serif', serif" font-weight="bold" font-size="23" text-anchor="start" fill="#232323" textLength="32.1" lengthAdjust="spacingAndGlyphs" stroke="#232323" stroke-width="0.6">Ru</text>
<text x="232.6" y="738.1" font-family="'Liberation Serif', serif" font-weight="bold" font-size="12" text-anchor="start" fill="#232323" textLength="8.1" lengthAdjust="spacingAndGlyphs" stroke="#232323" stroke-width="0.6">2</text>
<text x="238.9" y="728.6" font-family="'Liberation Serif', serif" font-weight="bold" font-size="23" text-anchor="start" fill="#232323" textLength="21.9" lengthAdjust="spacingAndGlyphs" stroke="#232323" stroke-width="0.9">@</text>
<text x="260.8" y="728.6" font-family="'Liberation Serif', serif" font-weight="bold" font-size="23" text-anchor="start" fill="#232323" textLength="82.0" lengthAdjust="spacingAndGlyphs" stroke="#232323" stroke-width="0.6">PdCu/C</text>
<line x1="126.00" y1="771.30" x2="167.80" y2="771.30" stroke="#bf62b3" stroke-width="2.4"/>
<text x="172.5" y="777.9" font-family="'Liberation Serif', serif" font-weight="bold" font-size="23" text-anchor="start" fill="#232323" textLength="22.6" lengthAdjust="spacingAndGlyphs" stroke="#232323" stroke-width="0.6">Pt</text>
<text x="193.6" y="787.4" font-family="'Liberation Serif', serif" font-weight="bold" font-size="12" text-anchor="start" fill="#232323" textLength="8.6" lengthAdjust="spacingAndGlyphs" stroke="#232323" stroke-width="0.6">1</text>
<text x="201.5" y="777.9" font-family="'Liberation Serif', serif" font-weight="bold" font-size="23" text-anchor="start" fill="#232323" textLength="32.1" lengthAdjust="spacingAndGlyphs" stroke="#232323" stroke-width="0.6">Ru</text>
<text x="232.6" y="787.4" font-family="'Liberation Serif', serif" font-weight="bold" font-size="12" text-anchor="start" fill="#232323" textLength="8.1" lengthAdjust="spacingAndGlyphs" stroke="#232323" stroke-width="0.6">3</text>
<text x="238.9" y="777.9" font-family="'Liberation Serif', serif" font-weight="bold" font-size="23" text-anchor="start" fill="#232323" textLength="21.9" lengthAdjust="spacingAndGlyphs" stroke="#232323" stroke-width="0.9">@</text>
<text x="260.8" y="777.9" font-family="'Liberation Serif', serif" font-weight="bold" font-size="23" text-anchor="start" fill="#232323" textLength="82.0" lengthAdjust="spacingAndGlyphs" stroke="#232323" stroke-width="0.6">PdCu/C</text>
<path d="M152.5,893.7 L153.5,893.9 L154.5,894.0 L155.5,894.2 L156.5,894.4 L157.5,894.5 L158.5,894.7 L159.5,894.8 L160.5,895.0 L161.5,895.1 L162.5,895.3 L163.5,895.4 L164.5,895.5 L165.5,895.7 L166.5,895.8 L167.5,895.9 L168.5,896.0 L169.5,896.1 L170.5,896.2 L171.5,896.3 L172.5,896.3 L173.5,896.4 L174.5,896.5 L175.5,896.5 L176.5,896.6 L177.5,896.6 L178.5,896.7 L179.5,896.7 L180.5,896.7 L181.5,896.7 L182.5,896.7 L183.5,896.7 L184.5,896.7 L185.5,896.7 L186.5,896.7 L187.5,896.7 L188.5,896.7 L189.5,896.7 L190.5,896.6 L191.5,896.6 L192.5,896.6 L193.5,896.7 L194.5,896.7 L195.5,896.7 L196.5,896.7 L197.5,896.7 L198.5,896.8 L199.5,896.8 L200.5,896.8 L201.5,896.8 L202.5,896.9 L203.5,896.9 L204.5,896.9 L205.5,896.9 L206.5,896.9 L207.5,896.9 L208.5,896.9 L209.5,896.9 L210.5,896.8 L211.5,896.8 L212.5,896.7 L213.5,896.7 L214.5,896.6 L215.5,896.6 L216.5,896.5 L217.5,896.4 L218.5,896.3 L219.5,896.3 L220.5,896.2 L221.5,896.1 L222.5,896.0 L223.5,895.9 L224.5,895.8 L225.5,895.7 L226.5,895.6 L227.5,895.5 L228.5,895.3 L229.5,895.2 L230.5,895.1 L231.5,895.0 L232.5,894.9 L233.5,894.7 L234.5,894.6 L235.5,894.5 L236.5,894.3 L237.5,894.2 L238.5,894.0 L239.5,893.9 L240.5,893.7 L241.5,893.6 L242.5,893.4 L243.5,893.3 L244.5,893.1 L245.5,892.9 L246.5,892.8 L247.5,892.6 L248.5,892.4 L249.5,892.2 L250.5,892.1 L251.5,891.9 L252.5,891.7 L253.5,891.5 L254.5,891.3 L255.5,891.1 L256.5,890.9 L257.5,890.7 L258.5,890.5 L259.5,890.3 L260.5,890.1 L261.5,889.9 L262.5,889.7 L263.5,889.5 L264.5,889.3 L265.5,889.1 L266.5,888.9 L267.5,888.6 L268.5,888.4 L269.5,888.2 L270.5,888.0 L271.5,887.7 L272.5,887.5 L273.5,887.3 L274.5,887.0 L275.5,886.8 L276.5,886.5 L277.5,886.3 L278.5,886.1 L279.5,885.8 L280.5,885.6 L281.5,885.3 L282.5,885.1 L283.5,884.8 L284.5,884.5 L285.5,884.3 L286.5,884.0 L287.5,883.8 L288.5,883.5 L289.5,883.2 L290.5,883.0 L291.5,882.7 L292.5,882.4 L293.5,882.1 L294.5,881.9 L295.5,881.6 L296.5,881.3 L297.5,881.0 L298.5,880.8 L299.5,880.5 L300.5,880.2 L301.5,879.9 L302.5,879.6 L303.5,879.3 L304.5,879.0 L305.5,878.7 L306.5,878.4 L307.5,878.1 L308.5,877.8 L309.5,877.5 L310.5,877.2 L311.5,876.9 L312.5,876.6 L313.5,876.3 L314.5,876.0 L315.5,875.7 L316.5,875.4 L317.5,875.1 L318.5,874.8 L319.5,874.5 L320.5,874.1 L321.5,873.8 L322.5,873.5 L323.5,873.2 L324.5,872.9 L325.5,872.6 L326.5,872.2 L327.5,871.9 L328.5,871.6 L329.5,871.2 L330.5,870.9 L331.5,870.6 L332.5,870.3 L333.5,869.9 L334.5,869.6 L335.5,869.2 L336.5,868.9 L337.5,868.6 L338.5,868.2 L339.5,867.9 L340.5,867.5 L341.5,867.2 L342.5,866.8 L343.5,866.5 L344.5,866.1 L345.5,865.7 L346.5,865.4 L347.5,865.0 L348.5,864.6 L349.5,864.3 L350.5,863.9 L351.5,863.5 L352.5,863.1 L353.5,862.7 L354.5,862.3 L355.5,861.9 L356.5,861.5 L357.5,861.1 L358.5,860.7 L359.5,860.3 L360.5,859.8 L361.5,859.4 L362.5,858.9 L363.5,858.5 L364.5,858.0 L365.5,857.5 L366.5,857.0 L367.5,856.5 L368.5,856.0 L369.5,855.5 L370.5,854.9 L371.5,854.4 L372.5,853.8 L373.5,853.2 L374.5,852.6 L375.5,852.0 L376.5,851.3 L377.5,850.7 L378.5,850.0 L379.5,849.3 L380.5,848.6 L381.5,847.8 L382.5,847.0 L383.5,846.2 L384.5,845.4 L385.5,844.6 L386.5,843.7 L387.5,842.8 L388.5,841.8 L389.5,840.9 L390.5,839.9 L391.5,838.8 L392.5,837.8 L393.5,836.7 L394.5,835.5 L395.5,834.4 L396.5,833.2 L397.5,831.9 L398.5,830.7 L399.5,829.4 L400.5,828.0 L401.5,826.7 L402.5,825.3 L403.5,823.8 L404.5,822.4 L405.5,820.9 L406.5,819.3 L407.5,817.8 L408.5,816.2 L409.5,814.6 L410.5,812.9 L411.5,811.3 L412.5,809.6 L413.5,807.9 L414.5,806.1 L415.5,804.4 L416.5,802.6 L417.5,800.9 L418.5,799.1 L419.5,797.3 L420.5,795.5 L421.5,793.7 L422.5,791.9 L423.5,790.1 L424.5,788.3 L425.5,786.5 L426.5,784.8 L427.5,783.0 L428.5,781.3 L429.5,779.6 L430.5,777.9 L431.5,776.3 L432.5,774.7 L433.5,773.1 L434.5,771.6 L435.5,770.1 L436.5,768.7 L437.5,767.3 L438.5,765.9 L439.5,764.7 L440.5,763.4 L441.5,762.3 L442.5,761.2 L443.5,760.1 L444.5,759.1 L445.5,758.2 L446.5,757.4 L447.5,756.6 L448.5,755.9 L449.5,755.3 L450.5,754.7 L451.5,754.2 L452.5,753.8 L453.5,753.4 L454.5,753.1 L455.5,752.9 L456.5,752.7 L457.5,752.6 L458.5,752.6 L459.5,752.6 L460.5,752.7 L461.5,752.8 L462.5,753.0 L463.5,753.2 L464.5,753.5 L465.5,753.8 L466.5,754.2 L467.5,754.6 L468.5,755.1 L469.5,755.5 L470.5,756.0 L471.5,756.6 L472.5,757.1 L473.5,757.7 L474.5,758.3 L475.5,758.9 L476.5,759.5 L477.5,760.2 L478.5,760.8 L479.5,761.5 L480.5,762.1 L481.5,762.8 L482.5,763.4 L483.5,764.1 L484.5,764.8 L485.5,765.4 L486.5,766.1 L487.5,766.7 L488.5,767.4 L489.5,768.0 L490.5,768.7 L491.5,769.3 L492.5,770.0 L493.5,770.6 L494.5,771.2 L495.5,771.9 L496.5,772.5 L497.5,773.2 L498.5,773.8 L499.5,774.5 L500.5,775.1 L501.5,775.8 L502.5,776.4 L503.5,777.1 L504.5,777.8 L505.5,778.4 L506.5,779.1 L507.5,779.8 L508.5,780.5 L509.5,781.2 L510.5,781.9 L511.5,782.6 L512.5,783.3 L513.5,784.0 L514.5,784.7 L515.5,785.4 L516.5,786.1 L517.5,786.8 L518.5,787.5 L519.5,788.2 L520.5,788.9 L521.5,789.6 L522.5,790.2 L523.5,790.9 L524.5,791.5 L525.5,792.1 L526.5,792.7 L527.5,793.3 L528.5,793.9 L529.5,794.4 L530.5,795.0 L531.5,795.5 L532.5,795.9 L533.5,796.4 L534.5,796.8 L535.5,797.2 L536.5,797.6 L537.5,798.0 L538.5,798.3 L539.5,798.6 L540.5,798.9 L541.5,799.2 L542.5,799.4 L543.5,799.6 L544.5,799.8 L545.5,800.0 L546.5,800.1 L547.5,800.2 L548.5,800.4 L549.5,800.4 L550.5,800.5 L551.5,800.6 L552.5,800.6 L553.5,800.6 L554.5,800.6 L555.5,800.6 L556.5,800.6 L557.5,800.6 L558.5,800.5 L559.5,800.5 L560.5,800.4 L561.5,800.4 L562.5,800.3 L563.5,800.2 L564.5,800.1 L565.5,800.0 L566.5,799.9 L567.5,799.8 L568.5,799.7 L569.5,799.6 L569.7,799.6" fill="none" stroke="#bf62b3" stroke-width="2.6" stroke-linejoin="round" stroke-linecap="round"/>
<path d="M152.5,886.6 L153.5,886.8 L154.5,887.0 L155.5,887.2 L156.5,887.4 L157.5,887.5 L158.5,887.7 L159.5,887.9 L160.5,888.1 L161.5,888.3 L162.5,888.5 L163.5,888.6 L164.5,888.8 L165.5,889.0 L166.5,889.1 L167.5,889.3 L168.5,889.4 L169.5,889.6 L170.5,889.7 L171.5,889.9 L172.5,890.0 L173.5,890.2 L174.5,890.3 L175.5,890.4 L176.5,890.5 L177.5,890.6 L178.5,890.8 L179.5,890.9 L180.5,891.0 L181.5,891.1 L182.5,891.1 L183.5,891.2 L184.5,891.3 L185.5,891.4 L186.5,891.5 L187.5,891.5 L188.5,891.6 L189.5,891.6 L190.5,891.7 L191.5,891.7 L192.5,891.7 L193.5,891.8 L194.5,891.8 L195.5,891.8 L196.5,891.8 L197.5,891.8 L198.5,891.8 L199.5,891.8 L200.5,891.8 L201.5,891.8 L202.5,891.8 L203.5,891.8 L204.5,891.7 L205.5,891.7 L206.5,891.6 L207.5,891.6 L208.5,891.5 L209.5,891.5 L210.5,891.4 L211.5,891.3 L212.5,891.3 L213.5,891.2 L214.5,891.1 L215.5,891.0 L216.5,890.9 L217.5,890.8 L218.5,890.7 L219.5,890.6 L220.5,890.5 L221.5,890.4 L222.5,890.3 L223.5,890.2 L224.5,890.1 L225.5,889.9 L226.5,889.8 L227.5,889.7 L228.5,889.5 L229.5,889.4 L230.5,889.3 L231.5,889.1 L232.5,889.0 L233.5,888.8 L234.5,888.7 L235.5,888.5 L236.5,888.4 L237.5,888.2 L238.5,888.1 L239.5,887.9 L240.5,887.7 L241.5,887.6 L242.5,887.4 L243.5,887.2 L244.5,887.1 L245.5,886.9 L246.5,886.7 L247.5,886.6 L248.5,886.4 L249.5,886.2 L250.5,886.1 L251.5,885.9 L252.5,885.7 L253.5,885.5 L254.5,885.4 L255.5,885.2 L256.5,885.0 L257.5,884.8 L258.5,884.6 L259.5,884.5 L260.5,884.3 L261.5,884.1 L262.5,883.9 L263.5,883.7 L264.5,883.6 L265.5,883.4 L266.5,883.2 L267.5,883.0 L268.5,882.8 L269.5,882.6 L270.5,882.4 L271.5,882.3 L272.5,882.1 L273.5,881.9 L274.5,881.7 L275.5,881.5 L276.5,881.3 L277.5,881.1 L278.5,880.9 L279.5,880.7 L280.5,880.5 L281.5,880.3 L282.5,880.1 L283.5,879.9 L284.5,879.7 L285.5,879.5 L286.5,879.3 L287.5,879.1 L288.5,878.9 L289.5,878.7 L290.5,878.5 L291.5,878.3 L292.5,878.1 L293.5,877.9 L294.5,877.7 L295.5,877.5 L296.5,877.3 L297.5,877.1 L298.5,876.8 L299.5,876.6 L300.5,876.4 L301.5,876.2 L302.5,876.0 L303.5,875.7 L304.5,875.5 L305.5,875.3 L306.5,875.0 L307.5,874.8 L308.5,874.6 L309.5,874.3 L310.5,874.1 L311.5,873.9 L312.5,873.6 L313.5,873.4 L314.5,873.1 L315.5,872.9 L316.5,872.6 L317.5,872.4 L318.5,872.1 L319.5,871.9 L320.5,871.6 L321.5,871.3 L322.5,871.1 L323.5,870.8 L324.5,870.5 L325.5,870.3 L326.5,870.0 L327.5,869.7 L328.5,869.4 L329.5,869.1 L330.5,868.8 L331.5,868.5 L332.5,868.2 L333.5,867.9 L334.5,867.5 L335.5,867.2 L336.5,866.9 L337.5,866.5 L338.5,866.2 L339.5,865.8 L340.5,865.5 L341.5,865.1 L342.5,864.7 L343.5,864.3 L344.5,863.9 L345.5,863.5 L346.5,863.1 L347.5,862.7 L348.5,862.2 L349.5,861.8 L350.5,861.3 L351.5,860.8 L352.5,860.3 L353.5,859.8 L354.5,859.3 L355.5,858.7 L356.5,858.2 L357.5,857.6 L358.5,857.0 L359.5,856.4 L360.5,855.7 L361.5,855.1 L362.5,854.4 L363.5,853.7 L364.5,852.9 L365.5,852.2 L366.5,851.4 L367.5,850.6 L368.5,849.8 L369.5,848.9 L370.5,848.0 L371.5,847.1 L372.5,846.1 L373.5,845.1 L374.5,844.1 L375.5,843.0 L376.5,842.0 L377.5,840.8 L378.5,839.7 L379.5,838.5 L380.5,837.2 L381.5,835.9 L382.5,834.6 L383.5,833.3 L384.5,831.8 L385.5,830.4 L386.5,828.9 L387.5,827.4 L388.5,825.8 L389.5,824.2 L390.5,822.5 L391.5,820.8 L392.5,819.1 L393.5,817.3 L394.5,815.5 L395.5,813.6 L396.5,811.7 L397.5,809.7 L398.5,807.7 L399.5,805.7 L400.5,803.6 L401.5,801.5 L402.5,799.3 L403.5,797.1 L404.5,794.9 L405.5,792.7 L406.5,790.4 L407.5,788.0 L408.5,785.7 L409.5,783.3 L410.5,780.9 L411.5,778.4 L412.5,776.0 L413.5,773.5 L414.5,771.0 L415.5,768.5 L416.5,766.0 L417.5,763.5 L418.5,761.0 L419.5,758.5 L420.5,755.9 L421.5,753.4 L422.5,750.9 L423.5,748.4 L424.5,745.9 L425.5,743.4 L426.5,741.0 L427.5,738.6 L428.5,736.2 L429.5,733.8 L430.5,731.5 L431.5,729.2 L432.5,726.9 L433.5,724.7 L434.5,722.5 L435.5,720.4 L436.5,718.3 L437.5,716.3 L438.5,714.4 L439.5,712.5 L440.5,710.7 L441.5,708.9 L442.5,707.2 L443.5,705.6 L444.5,704.1 L445.5,702.6 L446.5,701.3 L447.5,700.0 L448.5,698.8 L449.5,697.6 L450.5,696.6 L451.5,695.6 L452.5,694.7 L453.5,693.9 L454.5,693.2 L455.5,692.6 L456.5,692.1 L457.5,691.7 L458.5,691.3 L459.5,691.0 L460.5,690.9 L461.5,690.8 L462.5,690.7 L463.5,690.8 L464.5,691.0 L465.5,691.2 L466.5,691.5 L467.5,691.9 L468.5,692.3 L469.5,692.8 L470.5,693.4 L471.5,694.1 L472.5,694.8 L473.5,695.6 L474.5,696.4 L475.5,697.3 L476.5,698.3 L477.5,699.3 L478.5,700.3 L479.5,701.4 L480.5,702.5 L481.5,703.7 L482.5,704.9 L483.5,706.1 L484.5,707.4 L485.5,708.7 L486.5,710.0 L487.5,711.3 L488.5,712.6 L489.5,714.0 L490.5,715.4 L491.5,716.8 L492.5,718.1 L493.5,719.5 L494.5,720.9 L495.5,722.3 L496.5,723.8 L497.5,725.2 L498.5,726.5 L499.5,727.9 L500.5,729.3 L501.5,730.7 L502.5,732.1 L503.5,733.4 L504.5,734.8 L505.5,736.1 L506.5,737.4 L507.5,738.7 L508.5,740.0 L509.5,741.3 L510.5,742.5 L511.5,743.8 L512.5,745.0 L513.5,746.2 L514.5,747.4 L515.5,748.6 L516.5,749.7 L517.5,750.9 L518.5,752.0 L519.5,753.1 L520.5,754.2 L521.5,755.2 L522.5,756.3 L523.5,757.3 L524.5,758.3 L525.5,759.3 L526.5,760.2 L527.5,761.2 L528.5,762.1 L529.5,763.0 L530.5,763.9 L531.5,764.7 L532.5,765.6 L533.5,766.4 L534.5,767.2 L535.5,768.0 L536.5,768.7 L537.5,769.5 L538.5,770.2 L539.5,770.9 L540.5,771.6 L541.5,772.2 L542.5,772.9 L543.5,773.5 L544.5,774.0 L545.5,774.6 L546.5,775.1 L547.5,775.7 L548.5,776.2 L549.5,776.6 L550.5,777.1 L551.5,777.5 L552.5,777.9 L553.5,778.3 L554.5,778.6 L555.5,779.0 L556.5,779.3 L557.5,779.5 L558.5,779.8 L559.5,780.0 L560.5,780.3 L561.5,780.5 L562.5,780.6 L563.5,780.8 L564.5,780.9 L565.5,781.0 L566.5,781.1 L567.5,781.2 L568.5,781.2 L569.5,781.3 L569.7,781.3" fill="none" stroke="#3d9488" stroke-width="2.6" stroke-linejoin="round" stroke-linecap="round"/>
<path d="M152.5,889.1 L153.5,889.2 L154.5,889.3 L155.5,889.4 L156.5,889.5 L157.5,889.6 L158.5,889.7 L159.5,889.8 L160.5,889.9 L161.5,889.9 L162.5,890.0 L163.5,890.1 L164.5,890.2 L165.5,890.3 L166.5,890.3 L167.5,890.4 L168.5,890.5 L169.5,890.5 L170.5,890.6 L171.5,890.7 L172.5,890.7 L173.5,890.8 L174.5,890.9 L175.5,890.9 L176.5,891.0 L177.5,891.0 L178.5,891.1 L179.5,891.1 L180.5,891.2 L181.5,891.2 L182.5,891.3 L183.5,891.3 L184.5,891.3 L185.5,891.4 L186.5,891.4 L187.5,891.4 L188.5,891.5 L189.5,891.5 L190.5,891.5 L191.5,891.5 L192.5,891.6 L193.5,891.6 L194.5,891.6 L195.5,891.6 L196.5,891.6 L197.5,891.6 L198.5,891.6 L199.5,891.6 L200.5,891.6 L201.5,891.6 L202.5,891.6 L203.5,891.6 L204.5,891.6 L205.5,891.6 L206.5,891.6 L207.5,891.6 L208.5,891.5 L209.5,891.5 L210.5,891.5 L211.5,891.5 L212.5,891.4 L213.5,891.4 L214.5,891.4 L215.5,891.3 L216.5,891.3 L217.5,891.2 L218.5,891.2 L219.5,891.1 L220.5,891.1 L221.5,891.0 L222.5,891.0 L223.5,890.9 L224.5,890.8 L225.5,890.8 L226.5,890.7 L227.5,890.6 L228.5,890.5 L229.5,890.4 L230.5,890.4 L231.5,890.3 L232.5,890.2 L233.5,890.1 L234.5,890.0 L235.5,889.9 L236.5,889.8 L237.5,889.7 L238.5,889.6 L239.5,889.5 L240.5,889.3 L241.5,889.2 L242.5,889.1 L243.5,889.0 L244.5,888.8 L245.5,888.7 L246.5,888.6 L247.5,888.4 L248.5,888.3 L249.5,888.2 L250.5,888.0 L251.5,887.8 L252.5,887.7 L253.5,887.5 L254.5,887.4 L255.5,887.2 L256.5,887.0 L257.5,886.9 L258.5,886.7 L259.5,886.5 L260.5,886.3 L261.5,886.1 L262.5,885.9 L263.5,885.7 L264.5,885.5 L265.5,885.3 L266.5,885.1 L267.5,884.9 L268.5,884.7 L269.5,884.5 L270.5,884.3 L271.5,884.1 L272.5,883.8 L273.5,883.6 L274.5,883.4 L275.5,883.1 L276.5,882.9 L277.5,882.6 L278.5,882.4 L279.5,882.1 L280.5,881.9 L281.5,881.6 L282.5,881.4 L283.5,881.1 L284.5,880.8 L285.5,880.6 L286.5,880.3 L287.5,880.0 L288.5,879.7 L289.5,879.4 L290.5,879.1 L291.5,878.8 L292.5,878.5 L293.5,878.2 L294.5,877.9 L295.5,877.6 L296.5,877.3 L297.5,877.0 L298.5,876.7 L299.5,876.3 L300.5,876.0 L301.5,875.7 L302.5,875.4 L303.5,875.0 L304.5,874.7 L305.5,874.3 L306.5,874.0 L307.5,873.6 L308.5,873.3 L309.5,872.9 L310.5,872.5 L311.5,872.2 L312.5,871.8 L313.5,871.4 L314.5,871.0 L315.5,870.7 L316.5,870.3 L317.5,869.9 L318.5,869.5 L319.5,869.1 L320.5,868.7 L321.5,868.3 L322.5,867.9 L323.5,867.4 L324.5,867.0 L325.5,866.6 L326.5,866.2 L327.5,865.7 L328.5,865.3 L329.5,864.9 L330.5,864.4 L331.5,863.9 L332.5,863.5 L333.5,863.0 L334.5,862.5 L335.5,862.1 L336.5,861.6 L337.5,861.1 L338.5,860.6 L339.5,860.1 L340.5,859.6 L341.5,859.1 L342.5,858.5 L343.5,858.0 L344.5,857.4 L345.5,856.9 L346.5,856.3 L347.5,855.7 L348.5,855.2 L349.5,854.5 L350.5,853.9 L351.5,853.3 L352.5,852.7 L353.5,852.0 L354.5,851.3 L355.5,850.6 L356.5,849.9 L357.5,849.2 L358.5,848.5 L359.5,847.7 L360.5,846.9 L361.5,846.1 L362.5,845.3 L363.5,844.4 L364.5,843.5 L365.5,842.6 L366.5,841.7 L367.5,840.7 L368.5,839.7 L369.5,838.7 L370.5,837.6 L371.5,836.5 L372.5,835.3 L373.5,834.2 L374.5,832.9 L375.5,831.7 L376.5,830.4 L377.5,829.0 L378.5,827.6 L379.5,826.2 L380.5,824.7 L381.5,823.1 L382.5,821.6 L383.5,819.9 L384.5,818.2 L385.5,816.5 L386.5,814.6 L387.5,812.8 L388.5,810.8 L389.5,808.9 L390.5,806.8 L391.5,804.7 L392.5,802.5 L393.5,800.3 L394.5,798.0 L395.5,795.7 L396.5,793.3 L397.5,790.8 L398.5,788.2 L399.5,785.6 L400.5,783.0 L401.5,780.3 L402.5,777.5 L403.5,774.7 L404.5,771.8 L405.5,768.8 L406.5,765.8 L407.5,762.8 L408.5,759.7 L409.5,756.6 L410.5,753.4 L411.5,750.2 L412.5,746.9 L413.5,743.6 L414.5,740.3 L415.5,737.0 L416.5,733.7 L417.5,730.3 L418.5,726.9 L419.5,723.5 L420.5,720.1 L421.5,716.8 L422.5,713.4 L423.5,710.0 L424.5,706.7 L425.5,703.4 L426.5,700.1 L427.5,696.9 L428.5,693.6 L429.5,690.5 L430.5,687.4 L431.5,684.3 L432.5,681.4 L433.5,678.4 L434.5,675.6 L435.5,672.9 L436.5,670.2 L437.5,667.6 L438.5,665.1 L439.5,662.8 L440.5,660.5 L441.5,658.3 L442.5,656.3 L443.5,654.3 L444.5,652.5 L445.5,650.9 L446.5,649.3 L447.5,647.9 L448.5,646.6 L449.5,645.4 L450.5,644.4 L451.5,643.6 L452.5,642.8 L453.5,642.2 L454.5,641.8 L455.5,641.4 L456.5,641.3 L457.5,641.2 L458.5,641.3 L459.5,641.6 L460.5,641.9 L461.5,642.4 L462.5,643.0 L463.5,643.8 L464.5,644.6 L465.5,645.6 L466.5,646.7 L467.5,647.9 L468.5,649.2 L469.5,650.6 L470.5,652.1 L471.5,653.6 L472.5,655.3 L473.5,657.0 L474.5,658.8 L475.5,660.6 L476.5,662.5 L477.5,664.5 L478.5,666.5 L479.5,668.5 L480.5,670.6 L481.5,672.7 L482.5,674.8 L483.5,676.9 L484.5,679.1 L485.5,681.2 L486.5,683.4 L487.5,685.5 L488.5,687.7 L489.5,689.8 L490.5,692.0 L491.5,694.1 L492.5,696.2 L493.5,698.3 L494.5,700.4 L495.5,702.5 L496.5,704.5 L497.5,706.6 L498.5,708.6 L499.5,710.6 L500.5,712.6 L501.5,714.6 L502.5,716.6 L503.5,718.5 L504.5,720.5 L505.5,722.4 L506.5,724.3 L507.5,726.3 L508.5,728.2 L509.5,730.1 L510.5,732.0 L511.5,733.8 L512.5,735.7 L513.5,737.6 L514.5,739.5 L515.5,741.3 L516.5,743.2 L517.5,745.0 L518.5,746.8 L519.5,748.7 L520.5,750.5 L521.5,752.2 L522.5,754.0 L523.5,755.7 L524.5,757.4 L525.5,759.1 L526.5,760.8 L527.5,762.4 L528.5,764.0 L529.5,765.6 L530.5,767.1 L531.5,768.6 L532.5,770.0 L533.5,771.4 L534.5,772.8 L535.5,774.1 L536.5,775.4 L537.5,776.6 L538.5,777.8 L539.5,779.0 L540.5,780.1 L541.5,781.2 L542.5,782.2 L543.5,783.2 L544.5,784.1 L545.5,785.0 L546.5,785.9 L547.5,786.7 L548.5,787.5 L549.5,788.2 L550.5,789.0 L551.5,789.7 L552.5,790.4 L553.5,791.0 L554.5,791.6 L555.5,792.2 L556.5,792.8 L557.5,793.4 L558.5,794.0 L559.5,794.5 L560.5,795.0 L561.5,795.5 L562.5,796.0 L563.5,796.5 L564.5,797.0 L565.5,797.5 L566.5,798.0 L567.5,798.5 L568.5,798.9 L569.5,799.4 L569.7,799.5" fill="none" stroke="#383838" stroke-width="2.6" stroke-linejoin="round" stroke-linecap="round"/>
<path d="M152.5,884.7 L153.5,884.8 L154.5,884.9 L155.5,885.1 L156.5,885.2 L157.5,885.3 L158.5,885.4 L159.5,885.5 L160.5,885.6 L161.5,885.8 L162.5,885.9 L163.5,886.0 L164.5,886.1 L165.5,886.2 L166.5,886.3 L167.5,886.4 L168.5,886.5 L169.5,886.6 L170.5,886.7 L171.5,886.8 L172.5,886.8 L173.5,886.9 L174.5,887.0 L175.5,887.1 L176.5,887.2 L177.5,887.2 L178.5,887.3 L179.5,887.4 L180.5,887.5 L181.5,887.5 L182.5,887.6 L183.5,887.6 L184.5,887.7 L185.5,887.7 L186.5,887.8 L187.5,887.8 L188.5,887.9 L189.5,887.9 L190.5,888.0 L191.5,888.0 L192.5,888.0 L193.5,888.1 L194.5,888.1 L195.5,888.1 L196.5,888.2 L197.5,888.2 L198.5,888.2 L199.5,888.2 L200.5,888.2 L201.5,888.2 L202.5,888.2 L203.5,888.2 L204.5,888.2 L205.5,888.2 L206.5,888.2 L207.5,888.2 L208.5,888.2 L209.5,888.2 L210.5,888.2 L211.5,888.1 L212.5,888.1 L213.5,888.1 L214.5,888.1 L215.5,888.0 L216.5,888.0 L217.5,887.9 L218.5,887.9 L219.5,887.8 L220.5,887.8 L221.5,887.7 L222.5,887.7 L223.5,887.6 L224.5,887.6 L225.5,887.5 L226.5,887.4 L227.5,887.4 L228.5,887.3 L229.5,887.2 L230.5,887.1 L231.5,887.0 L232.5,886.9 L233.5,886.9 L234.5,886.8 L235.5,886.7 L236.5,886.6 L237.5,886.4 L238.5,886.3 L239.5,886.2 L240.5,886.1 L241.5,886.0 L242.5,885.9 L243.5,885.7 L244.5,885.6 L245.5,885.5 L246.5,885.3 L247.5,885.2 L248.5,885.1 L249.5,884.9 L250.5,884.8 L251.5,884.6 L252.5,884.5 L253.5,884.3 L254.5,884.1 L255.5,884.0 L256.5,883.8 L257.5,883.6 L258.5,883.4 L259.5,883.3 L260.5,883.1 L261.5,882.9 L262.5,882.7 L263.5,882.5 L264.5,882.3 L265.5,882.1 L266.5,881.9 L267.5,881.7 L268.5,881.5 L269.5,881.3 L270.5,881.0 L271.5,880.8 L272.5,880.6 L273.5,880.4 L274.5,880.1 L275.5,879.9 L276.5,879.7 L277.5,879.4 L278.5,879.2 L279.5,878.9 L280.5,878.7 L281.5,878.4 L282.5,878.1 L283.5,877.9 L284.5,877.6 L285.5,877.3 L286.5,877.1 L287.5,876.8 L288.5,876.5 L289.5,876.2 L290.5,875.9 L291.5,875.6 L292.5,875.4 L293.5,875.1 L294.5,874.8 L295.5,874.4 L296.5,874.1 L297.5,873.8 L298.5,873.5 L299.5,873.2 L300.5,872.9 L301.5,872.5 L302.5,872.2 L303.5,871.9 L304.5,871.5 L305.5,871.2 L306.5,870.9 L307.5,870.5 L308.5,870.2 L309.5,869.8 L310.5,869.5 L311.5,869.1 L312.5,868.7 L313.5,868.4 L314.5,868.0 L315.5,867.6 L316.5,867.2 L317.5,866.9 L318.5,866.5 L319.5,866.1 L320.5,865.7 L321.5,865.3 L322.5,864.9 L323.5,864.5 L324.5,864.1 L325.5,863.7 L326.5,863.2 L327.5,862.8 L328.5,862.4 L329.5,862.0 L330.5,861.5 L331.5,861.1 L332.5,860.6 L333.5,860.2 L334.5,859.7 L335.5,859.3 L336.5,858.8 L337.5,858.3 L338.5,857.8 L339.5,857.3 L340.5,856.8 L341.5,856.3 L342.5,855.8 L343.5,855.3 L344.5,854.7 L345.5,854.2 L346.5,853.6 L347.5,853.1 L348.5,852.5 L349.5,851.9 L350.5,851.3 L351.5,850.7 L352.5,850.1 L353.5,849.4 L354.5,848.8 L355.5,848.1 L356.5,847.4 L357.5,846.7 L358.5,846.0 L359.5,845.2 L360.5,844.4 L361.5,843.6 L362.5,842.8 L363.5,842.0 L364.5,841.1 L365.5,840.2 L366.5,839.3 L367.5,838.3 L368.5,837.3 L369.5,836.3 L370.5,835.3 L371.5,834.2 L372.5,833.1 L373.5,831.9 L374.5,830.7 L375.5,829.4 L376.5,828.1 L377.5,826.8 L378.5,825.4 L379.5,824.0 L380.5,822.5 L381.5,821.0 L382.5,819.4 L383.5,817.8 L384.5,816.1 L385.5,814.4 L386.5,812.6 L387.5,810.7 L388.5,808.8 L389.5,806.9 L390.5,804.8 L391.5,802.8 L392.5,800.6 L393.5,798.4 L394.5,796.1 L395.5,793.8 L396.5,791.4 L397.5,789.0 L398.5,786.4 L399.5,783.9 L400.5,781.2 L401.5,778.5 L402.5,775.8 L403.5,773.0 L404.5,770.1 L405.5,767.2 L406.5,764.3 L407.5,761.2 L408.5,758.2 L409.5,755.1 L410.5,752.0 L411.5,748.8 L412.5,745.6 L413.5,742.3 L414.5,739.1 L415.5,735.8 L416.5,732.5 L417.5,729.1 L418.5,725.8 L419.5,722.5 L420.5,719.1 L421.5,715.8 L422.5,712.5 L423.5,709.2 L424.5,705.9 L425.5,702.6 L426.5,699.4 L427.5,696.2 L428.5,693.0 L429.5,689.9 L430.5,686.9 L431.5,683.9 L432.5,680.9 L433.5,678.1 L434.5,675.3 L435.5,672.6 L436.5,669.9 L437.5,667.4 L438.5,664.9 L439.5,662.6 L440.5,660.4 L441.5,658.2 L442.5,656.2 L443.5,654.3 L444.5,652.5 L445.5,650.8 L446.5,649.3 L447.5,647.8 L448.5,646.5 L449.5,645.3 L450.5,644.3 L451.5,643.4 L452.5,642.6 L453.5,641.9 L454.5,641.4 L455.5,641.0 L456.5,640.7 L457.5,640.5 L458.5,640.5 L459.5,640.6 L460.5,640.8 L461.5,641.1 L462.5,641.5 L463.5,642.1 L464.5,642.7 L465.5,643.4 L466.5,644.3 L467.5,645.2 L468.5,646.2 L469.5,647.3 L470.5,648.5 L471.5,649.7 L472.5,651.0 L473.5,652.4 L474.5,653.9 L475.5,655.3 L476.5,656.9 L477.5,658.5 L478.5,660.1 L479.5,661.7 L480.5,663.4 L481.5,665.1 L482.5,666.9 L483.5,668.6 L484.5,670.4 L485.5,672.2 L486.5,674.0 L487.5,675.8 L488.5,677.6 L489.5,679.5 L490.5,681.3 L491.5,683.1 L492.5,685.0 L493.5,686.8 L494.5,688.6 L495.5,690.5 L496.5,692.3 L497.5,694.1 L498.5,696.0 L499.5,697.8 L500.5,699.6 L501.5,701.5 L502.5,703.3 L503.5,705.1 L504.5,706.9 L505.5,708.7 L506.5,710.5 L507.5,712.3 L508.5,714.1 L509.5,715.9 L510.5,717.6 L511.5,719.4 L512.5,721.1 L513.5,722.8 L514.5,724.5 L515.5,726.2 L516.5,727.9 L517.5,729.6 L518.5,731.2 L519.5,732.8 L520.5,734.4 L521.5,735.9 L522.5,737.4 L523.5,738.9 L524.5,740.4 L525.5,741.8 L526.5,743.1 L527.5,744.5 L528.5,745.8 L529.5,747.0 L530.5,748.3 L531.5,749.4 L532.5,750.6 L533.5,751.6 L534.5,752.7 L535.5,753.7 L536.5,754.6 L537.5,755.6 L538.5,756.4 L539.5,757.3 L540.5,758.1 L541.5,758.8 L542.5,759.5 L543.5,760.2 L544.5,760.8 L545.5,761.5 L546.5,762.0 L547.5,762.6 L548.5,763.1 L549.5,763.6 L550.5,764.1 L551.5,764.5 L552.5,764.9 L553.5,765.3 L554.5,765.7 L555.5,766.1 L556.5,766.4 L557.5,766.8 L558.5,767.1 L559.5,767.4 L560.5,767.7 L561.5,768.0 L562.5,768.3 L563.5,768.6 L564.5,768.9 L565.5,769.2 L566.5,769.5 L567.5,769.8 L568.5,770.1 L569.5,770.4 L569.7,770.5" fill="none" stroke="#4d58aa" stroke-width="2.6" stroke-linejoin="round" stroke-linecap="round"/>
<path d="M152.5,887.1 L153.5,887.2 L154.5,887.3 L155.5,887.4 L156.5,887.5 L157.5,887.6 L158.5,887.7 L159.5,887.8 L160.5,887.9 L161.5,888.0 L162.5,888.1 L163.5,888.2 L164.5,888.3 L165.5,888.4 L166.5,888.4 L167.5,888.5 L168.5,888.6 L169.5,888.7 L170.5,888.8 L171.5,888.9 L172.5,888.9 L173.5,889.0 L174.5,889.1 L175.5,889.2 L176.5,889.2 L177.5,889.3 L178.5,889.4 L179.5,889.4 L180.5,889.5 L181.5,889.6 L182.5,889.6 L183.5,889.7 L184.5,889.7 L185.5,889.8 L186.5,889.8 L187.5,889.9 L188.5,889.9 L189.5,890.0 L190.5,890.0 L191.5,890.1 L192.5,890.1 L193.5,890.2 L194.5,890.2 L195.5,890.2 L196.5,890.3 L197.5,890.3 L198.5,890.3 L199.5,890.4 L200.5,890.4 L201.5,890.4 L202.5,890.4 L203.5,890.5 L204.5,890.5 L205.5,890.5 L206.5,890.5 L207.5,890.5 L208.5,890.5 L209.5,890.5 L210.5,890.5 L211.5,890.5 L212.5,890.5 L213.5,890.5 L214.5,890.5 L215.5,890.5 L216.5,890.5 L217.5,890.4 L218.5,890.4 L219.5,890.4 L220.5,890.4 L221.5,890.3 L222.5,890.3 L223.5,890.3 L224.5,890.2 L225.5,890.2 L226.5,890.1 L227.5,890.1 L228.5,890.0 L229.5,890.0 L230.5,889.9 L231.5,889.8 L232.5,889.8 L233.5,889.7 L234.5,889.6 L235.5,889.5 L236.5,889.5 L237.5,889.4 L238.5,889.3 L239.5,889.2 L240.5,889.1 L241.5,889.0 L242.5,888.9 L243.5,888.8 L244.5,888.7 L245.5,888.5 L246.5,888.4 L247.5,888.3 L248.5,888.2 L249.5,888.0 L250.5,887.9 L251.5,887.7 L252.5,887.6 L253.5,887.4 L254.5,887.3 L255.5,887.1 L256.5,886.9 L257.5,886.8 L258.5,886.6 L259.5,886.4 L260.5,886.2 L261.5,886.0 L262.5,885.8 L263.5,885.6 L264.5,885.4 L265.5,885.2 L266.5,885.0 L267.5,884.8 L268.5,884.5 L269.5,884.3 L270.5,884.0 L271.5,883.8 L272.5,883.5 L273.5,883.3 L274.5,883.0 L275.5,882.7 L276.5,882.5 L277.5,882.2 L278.5,881.9 L279.5,881.6 L280.5,881.3 L281.5,881.0 L282.5,880.7 L283.5,880.4 L284.5,880.0 L285.5,879.7 L286.5,879.4 L287.5,879.0 L288.5,878.7 L289.5,878.3 L290.5,877.9 L291.5,877.6 L292.5,877.2 L293.5,876.8 L294.5,876.4 L295.5,876.0 L296.5,875.6 L297.5,875.2 L298.5,874.8 L299.5,874.3 L300.5,873.9 L301.5,873.5 L302.5,873.0 L303.5,872.6 L304.5,872.1 L305.5,871.6 L306.5,871.2 L307.5,870.7 L308.5,870.2 L309.5,869.7 L310.5,869.2 L311.5,868.7 L312.5,868.1 L313.5,867.6 L314.5,867.1 L315.5,866.5 L316.5,866.0 L317.5,865.4 L318.5,864.8 L319.5,864.3 L320.5,863.7 L321.5,863.1 L322.5,862.5 L323.5,861.9 L324.5,861.3 L325.5,860.7 L326.5,860.0 L327.5,859.4 L328.5,858.7 L329.5,858.1 L330.5,857.4 L331.5,856.7 L332.5,856.0 L333.5,855.4 L334.5,854.6 L335.5,853.9 L336.5,853.2 L337.5,852.5 L338.5,851.7 L339.5,851.0 L340.5,850.2 L341.5,849.4 L342.5,848.6 L343.5,847.8 L344.5,847.0 L345.5,846.2 L346.5,845.3 L347.5,844.5 L348.5,843.6 L349.5,842.7 L350.5,841.8 L351.5,840.9 L352.5,840.0 L353.5,839.0 L354.5,838.0 L355.5,837.0 L356.5,836.0 L357.5,835.0 L358.5,833.9 L359.5,832.8 L360.5,831.7 L361.5,830.6 L362.5,829.4 L363.5,828.2 L364.5,827.0 L365.5,825.7 L366.5,824.4 L367.5,823.1 L368.5,821.7 L369.5,820.3 L370.5,818.9 L371.5,817.4 L372.5,815.9 L373.5,814.3 L374.5,812.7 L375.5,811.0 L376.5,809.3 L377.5,807.5 L378.5,805.7 L379.5,803.8 L380.5,801.9 L381.5,799.9 L382.5,797.8 L383.5,795.7 L384.5,793.5 L385.5,791.3 L386.5,789.0 L387.5,786.6 L388.5,784.2 L389.5,781.7 L390.5,779.1 L391.5,776.4 L392.5,773.7 L393.5,770.9 L394.5,768.0 L395.5,765.1 L396.5,762.0 L397.5,758.9 L398.5,755.8 L399.5,752.5 L400.5,749.2 L401.5,745.8 L402.5,742.4 L403.5,738.9 L404.5,735.3 L405.5,731.6 L406.5,727.9 L407.5,724.1 L408.5,720.3 L409.5,716.4 L410.5,712.5 L411.5,708.6 L412.5,704.5 L413.5,700.5 L414.5,696.4 L415.5,692.3 L416.5,688.2 L417.5,684.1 L418.5,679.9 L419.5,675.8 L420.5,671.6 L421.5,667.5 L422.5,663.3 L423.5,659.2 L424.5,655.2 L425.5,651.1 L426.5,647.1 L427.5,643.2 L428.5,639.3 L429.5,635.5 L430.5,631.7 L431.5,628.0 L432.5,624.4 L433.5,620.9 L434.5,617.5 L435.5,614.3 L436.5,611.1 L437.5,608.0 L438.5,605.1 L439.5,602.3 L440.5,599.6 L441.5,597.1 L442.5,594.7 L443.5,592.5 L444.5,590.5 L445.5,588.6 L446.5,586.8 L447.5,585.2 L448.5,583.8 L449.5,582.6 L450.5,581.6 L451.5,580.7 L452.5,580.0 L453.5,579.4 L454.5,579.1 L455.5,578.9 L456.5,578.9 L457.5,579.1 L458.5,579.4 L459.5,579.9 L460.5,580.6 L461.5,581.4 L462.5,582.4 L463.5,583.5 L464.5,584.7 L465.5,586.1 L466.5,587.7 L467.5,589.3 L468.5,591.1 L469.5,593.0 L470.5,595.0 L471.5,597.0 L472.5,599.2 L473.5,601.4 L474.5,603.8 L475.5,606.1 L476.5,608.6 L477.5,611.1 L478.5,613.6 L479.5,616.2 L480.5,618.8 L481.5,621.4 L482.5,624.0 L483.5,626.7 L484.5,629.3 L485.5,632.0 L486.5,634.6 L487.5,637.3 L488.5,639.9 L489.5,642.6 L490.5,645.2 L491.5,647.8 L492.5,650.4 L493.5,653.0 L494.5,655.6 L495.5,658.2 L496.5,660.8 L497.5,663.4 L498.5,666.0 L499.5,668.6 L500.5,671.2 L501.5,673.7 L502.5,676.3 L503.5,678.9 L504.5,681.5 L505.5,684.0 L506.5,686.6 L507.5,689.2 L508.5,691.7 L509.5,694.3 L510.5,696.8 L511.5,699.3 L512.5,701.8 L513.5,704.3 L514.5,706.8 L515.5,709.2 L516.5,711.6 L517.5,713.9 L518.5,716.2 L519.5,718.4 L520.5,720.6 L521.5,722.8 L522.5,724.9 L523.5,726.9 L524.5,728.8 L525.5,730.7 L526.5,732.6 L527.5,734.3 L528.5,736.1 L529.5,737.7 L530.5,739.3 L531.5,740.8 L532.5,742.3 L533.5,743.7 L534.5,745.0 L535.5,746.3 L536.5,747.5 L537.5,748.7 L538.5,749.8 L539.5,750.9 L540.5,752.0 L541.5,753.0 L542.5,754.0 L543.5,754.9 L544.5,755.8 L545.5,756.7 L546.5,757.6 L547.5,758.4 L548.5,759.2 L549.5,760.0 L550.5,760.8 L551.5,761.5 L552.5,762.3 L553.5,763.0 L554.5,763.7 L555.5,764.5 L556.5,765.2 L557.5,765.8 L558.5,766.5 L559.5,767.2 L560.5,767.9 L561.5,768.5 L562.5,769.2 L563.5,769.9 L564.5,770.5 L565.5,771.2 L566.5,771.8 L567.5,772.4 L568.5,773.1 L569.5,773.7 L569.7,773.9" fill="none" stroke="#e24e4c" stroke-width="2.6" stroke-linejoin="round" stroke-linecap="round"/>
<line x1="734.70" y1="535.00" x2="734.70" y2="937.50" stroke="#333333" stroke-width="2.5"/>
<line x1="733.60" y1="936.50" x2="1270.70" y2="936.50" stroke="#333333" stroke-width="2.5"/>
<line x1="726.20" y1="936.50" x2="734.70" y2="936.50" stroke="#333333" stroke-width="2"/>
<text x="721.5" y="942.9" font-family="'Liberation Sans', sans-serif" font-weight="bold" font-size="22" text-anchor="end" fill="#232323" textLength="31.5" lengthAdjust="spacingAndGlyphs" stroke="#232323" stroke-width="0.6">0.0</text>
<line x1="730.50" y1="903.07" x2="734.70" y2="903.07" stroke="#333333" stroke-width="2"/>
<line x1="726.20" y1="869.63" x2="734.70" y2="869.63" stroke="#333333" stroke-width="2"/>
<text x="721.5" y="876.0" font-family="'Liberation Sans', sans-serif" font-weight="bold" font-size="22" text-anchor="end" fill="#232323" textLength="31.5" lengthAdjust="spacingAndGlyphs" stroke="#232323" stroke-width="0.6">0.5</text>
<line x1="730.50" y1="836.20" x2="734.70" y2="836.20" stroke="#333333" stroke-width="2"/>
<line x1="726.20" y1="802.77" x2="734.70" y2="802.77" stroke="#333333" stroke-width="2"/>
<text x="721.5" y="809.2" font-family="'Liberation Sans', sans-serif" font-weight="bold" font-size="22" text-anchor="end" fill="#232323" textLength="31.5" lengthAdjust="spacingAndGlyphs" stroke="#232323" stroke-width="0.6">1.0</text>
<line x1="730.50" y1="769.34" x2="734.70" y2="769.34" stroke="#333333" stroke-width="2"/>
<line x1="726.20" y1="735.90" x2="734.70" y2="735.90" stroke="#333333" stroke-width="2"/>
<text x="721.5" y="742.3" font-family="'Liberation Sans', sans-serif" font-weight="bold" font-size="22" text-anchor="end" fill="#232323" textLength="31.5" lengthAdjust="spacingAndGlyphs" stroke="#232323" stroke-width="0.6">1.5</text>
<line x1="730.50" y1="702.47" x2="734.70" y2="702.47" stroke="#333333" stroke-width="2"/>
<line x1="726.20" y1="669.04" x2="734.70" y2="669.04" stroke="#333333" stroke-width="2"/>
<text x="721.5" y="675.4" font-family="'Liberation Sans', sans-serif" font-weight="bold" font-size="22" text-anchor="end" fill="#232323" textLength="31.5" lengthAdjust="spacingAndGlyphs" stroke="#232323" stroke-width="0.6">2.0</text>
<line x1="730.50" y1="635.61" x2="734.70" y2="635.61" stroke="#333333" stroke-width="2"/>
<line x1="726.20" y1="602.17" x2="734.70" y2="602.17" stroke="#333333" stroke-width="2"/>
<text x="721.5" y="608.6" font-family="'Liberation Sans', sans-serif" font-weight="bold" font-size="22" text-anchor="end" fill="#232323" textLength="31.5" lengthAdjust="spacingAndGlyphs" stroke="#232323" stroke-width="0.6">2.5</text>
<line x1="730.50" y1="568.74" x2="734.70" y2="568.74" stroke="#333333" stroke-width="2"/>
<line x1="726.20" y1="535.31" x2="734.70" y2="535.31" stroke="#333333" stroke-width="2"/>
<text x="721.5" y="541.7" font-family="'Liberation Sans', sans-serif" font-weight="bold" font-size="22" text-anchor="end" fill="#232323" textLength="31.5" lengthAdjust="spacingAndGlyphs" stroke="#232323" stroke-width="0.6">3.0</text>
<defs><pattern id="hatch" patternUnits="userSpaceOnUse" width="7.637" height="7.637" patternTransform="rotate(45)">
<rect width="7.637" height="7.637" fill="#fcfcfc"/><line x1="6.265" y1="-1" x2="6.265" y2="8.7" stroke="#858585" stroke-width="1.8"/></pattern></defs>
<rect x="750.5" y="642.6" width="76.0" height="293.9" fill="url(#hatch)" stroke="#707070" stroke-width="2"/>
<line x1="788.50" y1="632.00" x2="788.50" y2="653.10" stroke="#666666" stroke-width="1.2"/>
<line x1="784.30" y1="632.00" x2="792.70" y2="632.00" stroke="#666666" stroke-width="1.2"/>
<line x1="784.30" y1="653.10" x2="792.70" y2="653.10" stroke="#666666" stroke-width="1.2"/>
<text transform="translate(776.8,890.3) rotate(-90)" font-family="'Liberation Sans', sans-serif" font-weight="bold" font-size="23" text-anchor="start" fill="#fcfcfc" textLength="24.4" lengthAdjust="spacingAndGlyphs" stroke="#fcfcfc" stroke-width="2.2">Pt</text>
<text transform="translate(786.3,866.6) rotate(-90)" font-family="'Liberation Sans', sans-serif" font-weight="bold" font-size="12" text-anchor="start" fill="#fcfcfc" textLength="9.2" lengthAdjust="spacingAndGlyphs" stroke="#fcfcfc" stroke-width="2.2">3</text>
<text transform="translate(776.8,857.2) rotate(-90)" font-family="'Liberation Sans', sans-serif" font-weight="bold" font-size="23" text-anchor="start" fill="#fcfcfc" textLength="31.5" lengthAdjust="spacingAndGlyphs" stroke="#fcfcfc" stroke-width="2.2">Ru</text>
<text transform="translate(786.3,825.7) rotate(-90)" font-family="'Liberation Sans', sans-serif" font-weight="bold" font-size="12" text-anchor="start" fill="#fcfcfc" textLength="6.8" lengthAdjust="spacingAndGlyphs" stroke="#fcfcfc" stroke-width="2.2">1</text>
<text transform="translate(776.8,818.2) rotate(-90)" font-family="'Liberation Sans', sans-serif" font-weight="bold" font-size="23" text-anchor="start" fill="#fcfcfc" textLength="23.9" lengthAdjust="spacingAndGlyphs" stroke="#fcfcfc" stroke-width="2.2">@</text>
<text transform="translate(776.8,792.8) rotate(-90)" font-family="'Liberation Sans', sans-serif" font-weight="bold" font-size="23" text-anchor="start" fill="#fcfcfc" textLength="86.6" lengthAdjust="spacingAndGlyphs" stroke="#fcfcfc" stroke-width="2.2">PdCu/C</text>
<text transform="translate(776.8,890.3) rotate(-90)" font-family="'Liberation Sans', sans-serif" font-weight="bold" font-size="23" text-anchor="start" fill="#232323" textLength="24.4" lengthAdjust="spacingAndGlyphs" stroke="#232323" stroke-width="0.6">Pt</text>
<text transform="translate(786.3,866.6) rotate(-90)" font-family="'Liberation Sans', sans-serif" font-weight="bold" font-size="12" text-anchor="start" fill="#232323" textLength="9.2" lengthAdjust="spacingAndGlyphs" stroke="#232323" stroke-width="0.6">3</text>
<text transform="translate(776.8,857.2) rotate(-90)" font-family="'Liberation Sans', sans-serif" font-weight="bold" font-size="23" text-anchor="start" fill="#232323" textLength="31.5" lengthAdjust="spacingAndGlyphs" stroke="#232323" stroke-width="0.6">Ru</text>
<text transform="translate(786.3,825.7) rotate(-90)" font-family="'Liberation Sans', sans-serif" font-weight="bold" font-size="12" text-anchor="start" fill="#232323" textLength="6.8" lengthAdjust="spacingAndGlyphs" stroke="#232323" stroke-width="0.6">1</text>
<text transform="translate(776.8,818.2) rotate(-90)" font-family="'Liberation Sans', sans-serif" font-weight="bold" font-size="23" text-anchor="start" fill="#232323" textLength="23.9" lengthAdjust="spacingAndGlyphs" stroke="#232323" stroke-width="1.0">@</text>
<text transform="translate(776.8,792.8) rotate(-90)" font-family="'Liberation Sans', sans-serif" font-weight="bold" font-size="23" text-anchor="start" fill="#232323" textLength="86.6" lengthAdjust="spacingAndGlyphs" stroke="#232323" stroke-width="0.6">PdCu/C</text>
<rect x="857.7" y="570.9" width="75.9" height="365.6" fill="url(#hatch)" stroke="#707070" stroke-width="2"/>
<line x1="896.80" y1="563.00" x2="896.80" y2="579.00" stroke="#666666" stroke-width="1.2"/>
<line x1="892.60" y1="563.00" x2="901.00" y2="563.00" stroke="#666666" stroke-width="1.2"/>
<line x1="892.60" y1="579.00" x2="901.00" y2="579.00" stroke="#666666" stroke-width="1.2"/>
<text transform="translate(886.3,875.8) rotate(-90)" font-family="'Liberation Sans', sans-serif" font-weight="bold" font-size="23" text-anchor="start" fill="#fcfcfc" textLength="24.4" lengthAdjust="spacingAndGlyphs" stroke="#fcfcfc" stroke-width="2.2">Pt</text>
<text transform="translate(895.8,852.1) rotate(-90)" font-family="'Liberation Sans', sans-serif" font-weight="bold" font-size="12" text-anchor="start" fill="#fcfcfc" textLength="9.2" lengthAdjust="spacingAndGlyphs" stroke="#fcfcfc" stroke-width="2.2">2</text>
<text transform="translate(886.3,842.7) rotate(-90)" font-family="'Liberation Sans', sans-serif" font-weight="bold" font-size="23" text-anchor="start" fill="#fcfcfc" textLength="31.5" lengthAdjust="spacingAndGlyphs" stroke="#fcfcfc" stroke-width="2.2">Ru</text>
<text transform="translate(895.8,811.2) rotate(-90)" font-family="'Liberation Sans', sans-serif" font-weight="bold" font-size="12" text-anchor="start" fill="#fcfcfc" textLength="6.8" lengthAdjust="spacingAndGlyphs" stroke="#fcfcfc" stroke-width="2.2">1</text>
<text transform="translate(886.3,803.7) rotate(-90)" font-family="'Liberation Sans', sans-serif" font-weight="bold" font-size="23" text-anchor="start" fill="#fcfcfc" textLength="23.9" lengthAdjust="spacingAndGlyphs" stroke="#fcfcfc" stroke-width="2.2">@</text>
<text transform="translate(886.3,778.3) rotate(-90)" font-family="'Liberation Sans', sans-serif" font-weight="bold" font-size="23" text-anchor="start" fill="#fcfcfc" textLength="86.6" lengthAdjust="spacingAndGlyphs" stroke="#fcfcfc" stroke-width="2.2">PdCu/C</text>
<text transform="translate(886.3,875.8) rotate(-90)" font-family="'Liberation Sans', sans-serif" font-weight="bold" font-size="23" text-anchor="start" fill="#232323" textLength="24.4" lengthAdjust="spacingAndGlyphs" stroke="#232323" stroke-width="0.6">Pt</text>
<text transform="translate(895.8,852.1) rotate(-90)" font-family="'Liberation Sans', sans-serif" font-weight="bold" font-size="12" text-anchor="start" fill="#232323" textLength="9.2" lengthAdjust="spacingAndGlyphs" stroke="#232323" stroke-width="0.6">2</text>
<text transform="translate(886.3,842.7) rotate(-90)" font-family="'Liberation Sans', sans-serif" font-weight="bold" font-size="23" text-anchor="start" fill="#232323" textLength="31.5" lengthAdjust="spacingAndGlyphs" stroke="#232323" stroke-width="0.6">Ru</text>
<text transform="translate(895.8,811.2) rotate(-90)" font-family="'Liberation Sans', sans-serif" font-weight="bold" font-size="12" text-anchor="start" fill="#232323" textLength="6.8" lengthAdjust="spacingAndGlyphs" stroke="#232323" stroke-width="0.6">1</text>
<text transform="translate(886.3,803.7) rotate(-90)" font-family="'Liberation Sans', sans-serif" font-weight="bold" font-size="23" text-anchor="start" fill="#232323" textLength="23.9" lengthAdjust="spacingAndGlyphs" stroke="#232323" stroke-width="1.0">@</text>
<text transform="translate(886.3,778.3) rotate(-90)" font-family="'Liberation Sans', sans-serif" font-weight="bold" font-size="23" text-anchor="start" fill="#232323" textLength="86.6" lengthAdjust="spacingAndGlyphs" stroke="#232323" stroke-width="0.6">PdCu/C</text>
<rect x="965.8" y="641.3" width="75.9" height="295.2" fill="url(#hatch)" stroke="#707070" stroke-width="2"/>
<line x1="1003.70" y1="632.00" x2="1003.70" y2="650.60" stroke="#666666" stroke-width="1.2"/>
<line x1="999.50" y1="632.00" x2="1007.90" y2="632.00" stroke="#666666" stroke-width="1.2"/>
<line x1="999.50" y1="650.60" x2="1007.90" y2="650.60" stroke="#666666" stroke-width="1.2"/>
<text transform="translate(993.6,883.3) rotate(-90)" font-family="'Liberation Sans', sans-serif" font-weight="bold" font-size="23" text-anchor="start" fill="#fcfcfc" textLength="24.4" lengthAdjust="spacingAndGlyphs" stroke="#fcfcfc" stroke-width="2.2">Pt</text>
<text transform="translate(1003.1,859.6) rotate(-90)" font-family="'Liberation Sans', sans-serif" font-weight="bold" font-size="12" text-anchor="start" fill="#fcfcfc" textLength="9.2" lengthAdjust="spacingAndGlyphs" stroke="#fcfcfc" stroke-width="2.2">1</text>
<text transform="translate(993.6,850.2) rotate(-90)" font-family="'Liberation Sans', sans-serif" font-weight="bold" font-size="23" text-anchor="start" fill="#fcfcfc" textLength="31.5" lengthAdjust="spacingAndGlyphs" stroke="#fcfcfc" stroke-width="2.2">Ru</text>
<text transform="translate(1003.1,818.7) rotate(-90)" font-family="'Liberation Sans', sans-serif" font-weight="bold" font-size="12" text-anchor="start" fill="#fcfcfc" textLength="6.8" lengthAdjust="spacingAndGlyphs" stroke="#fcfcfc" stroke-width="2.2">1</text>
<text transform="translate(993.6,811.2) rotate(-90)" font-family="'Liberation Sans', sans-serif" font-weight="bold" font-size="23" text-anchor="start" fill="#fcfcfc" textLength="23.9" lengthAdjust="spacingAndGlyphs" stroke="#fcfcfc" stroke-width="2.2">@</text>
<text transform="translate(993.6,785.8) rotate(-90)" font-family="'Liberation Sans', sans-serif" font-weight="bold" font-size="23" text-anchor="start" fill="#fcfcfc" textLength="86.6" lengthAdjust="spacingAndGlyphs" stroke="#fcfcfc" stroke-width="2.2">PdCu/C</text>
<text transform="translate(993.6,883.3) rotate(-90)" font-family="'Liberation Sans', sans-serif" font-weight="bold" font-size="23" text-anchor="start" fill="#232323" textLength="24.4" lengthAdjust="spacingAndGlyphs" stroke="#232323" stroke-width="0.6">Pt</text>
<text transform="translate(1003.1,859.6) rotate(-90)" font-family="'Liberation Sans', sans-serif" font-weight="bold" font-size="12" text-anchor="start" fill="#232323" textLength="9.2" lengthAdjust="spacingAndGlyphs" stroke="#232323" stroke-width="0.6">1</text>
<text transform="translate(993.6,850.2) rotate(-90)" font-family="'Liberation Sans', sans-serif" font-weight="bold" font-size="23" text-anchor="start" fill="#232323" textLength="31.5" lengthAdjust="spacingAndGlyphs" stroke="#232323" stroke-width="0.6">Ru</text>
<text transform="translate(1003.1,818.7) rotate(-90)" font-family="'Liberation Sans', sans-serif" font-weight="bold" font-size="12" text-anchor="start" fill="#232323" textLength="6.8" lengthAdjust="spacingAndGlyphs" stroke="#232323" stroke-width="0.6">1</text>
<text transform="translate(993.6,811.2) rotate(-90)" font-family="'Liberation Sans', sans-serif" font-weight="bold" font-size="23" text-anchor="start" fill="#232323" textLength="23.9" lengthAdjust="spacingAndGlyphs" stroke="#232323" stroke-width="1.0">@</text>
<text transform="translate(993.6,785.8) rotate(-90)" font-family="'Liberation Sans', sans-serif" font-weight="bold" font-size="23" text-anchor="start" fill="#232323" textLength="86.6" lengthAdjust="spacingAndGlyphs" stroke="#232323" stroke-width="0.6">PdCu/C</text>
<rect x="1073.6" y="697.3" width="76.2" height="239.2" fill="url(#hatch)" stroke="#707070" stroke-width="2"/>
<line x1="1111.80" y1="686.00" x2="1111.80" y2="708.00" stroke="#666666" stroke-width="1.2"/>
<line x1="1107.60" y1="686.00" x2="1116.00" y2="686.00" stroke="#666666" stroke-width="1.2"/>
<line x1="1107.60" y1="708.00" x2="1116.00" y2="708.00" stroke="#666666" stroke-width="1.2"/>
<text transform="translate(1097.8,902.7) rotate(-90)" font-family="'Liberation Sans', sans-serif" font-weight="bold" font-size="23" text-anchor="start" fill="#fcfcfc" textLength="24.4" lengthAdjust="spacingAndGlyphs" stroke="#fcfcfc" stroke-width="2.2">Pt</text>
<text transform="translate(1107.3,879.0) rotate(-90)" font-family="'Liberation Sans', sans-serif" font-weight="bold" font-size="12" text-anchor="start" fill="#fcfcfc" textLength="9.2" lengthAdjust="spacingAndGlyphs" stroke="#fcfcfc" stroke-width="2.2">1</text>
<text transform="translate(1097.8,869.6) rotate(-90)" font-family="'Liberation Sans', sans-serif" font-weight="bold" font-size="23" text-anchor="start" fill="#fcfcfc" textLength="31.5" lengthAdjust="spacingAndGlyphs" stroke="#fcfcfc" stroke-width="2.2">Ru</text>
<text transform="translate(1107.3,838.1) rotate(-90)" font-family="'Liberation Sans', sans-serif" font-weight="bold" font-size="12" text-anchor="start" fill="#fcfcfc" textLength="8.4" lengthAdjust="spacingAndGlyphs" stroke="#fcfcfc" stroke-width="2.2">2</text>
<text transform="translate(1097.8,830.6) rotate(-90)" font-family="'Liberation Sans', sans-serif" font-weight="bold" font-size="23" text-anchor="start" fill="#fcfcfc" textLength="23.9" lengthAdjust="spacingAndGlyphs" stroke="#fcfcfc" stroke-width="2.2">@</text>
<text transform="translate(1097.8,805.2) rotate(-90)" font-family="'Liberation Sans', sans-serif" font-weight="bold" font-size="23" text-anchor="start" fill="#fcfcfc" textLength="86.6" lengthAdjust="spacingAndGlyphs" stroke="#fcfcfc" stroke-width="2.2">PdCu/C</text>
<text transform="translate(1097.8,902.7) rotate(-90)" font-family="'Liberation Sans', sans-serif" font-weight="bold" font-size="23" text-anchor="start" fill="#232323" textLength="24.4" lengthAdjust="spacingAndGlyphs" stroke="#232323" stroke-width="0.6">Pt</text>
<text transform="translate(1107.3,879.0) rotate(-90)" font-family="'Liberation Sans', sans-serif" font-weight="bold" font-size="12" text-anchor="start" fill="#232323" textLength="9.2" lengthAdjust="spacingAndGlyphs" stroke="#232323" stroke-width="0.6">1</text>
<text transform="translate(1097.8,869.6) rotate(-90)" font-family="'Liberation Sans', sans-serif" font-weight="bold" font-size="23" text-anchor="start" fill="#232323" textLength="31.5" lengthAdjust="spacingAndGlyphs" stroke="#232323" stroke-width="0.6">Ru</text>
<text transform="translate(1107.3,838.1) rotate(-90)" font-family="'Liberation Sans', sans-serif" font-weight="bold" font-size="12" text-anchor="start" fill="#232323" textLength="8.4" lengthAdjust="spacingAndGlyphs" stroke="#232323" stroke-width="0.6">2</text>
<text transform="translate(1097.8,830.6) rotate(-90)" font-family="'Liberation Sans', sans-serif" font-weight="bold" font-size="23" text-anchor="start" fill="#232323" textLength="23.9" lengthAdjust="spacingAndGlyphs" stroke="#232323" stroke-width="1.0">@</text>
<text transform="translate(1097.8,805.2) rotate(-90)" font-family="'Liberation Sans', sans-serif" font-weight="bold" font-size="23" text-anchor="start" fill="#232323" textLength="86.6" lengthAdjust="spacingAndGlyphs" stroke="#232323" stroke-width="0.6">PdCu/C</text>
<rect x="1181.2" y="766.6" width="76.2" height="169.9" fill="url(#hatch)" stroke="#707070" stroke-width="2"/>
<text transform="translate(1229.8,933.8) rotate(-90)" font-family="'Liberation Sans', sans-serif" font-weight="bold" font-size="23" text-anchor="start" fill="#fcfcfc" textLength="24.4" lengthAdjust="spacingAndGlyphs" stroke="#fcfcfc" stroke-width="2.2">Pt</text>
<text transform="translate(1239.3,910.1) rotate(-90)" font-family="'Liberation Sans', sans-serif" font-weight="bold" font-size="12" text-anchor="start" fill="#fcfcfc" textLength="9.2" lengthAdjust="spacingAndGlyphs" stroke="#fcfcfc" stroke-width="2.2">1</text>
<text transform="translate(1229.8,900.7) rotate(-90)" font-family="'Liberation Sans', sans-serif" font-weight="bold" font-size="23" text-anchor="start" fill="#fcfcfc" textLength="31.5" lengthAdjust="spacingAndGlyphs" stroke="#fcfcfc" stroke-width="2.2">Ru</text>
<text transform="translate(1239.3,869.2) rotate(-90)" font-family="'Liberation Sans', sans-serif" font-weight="bold" font-size="12" text-anchor="start" fill="#fcfcfc" textLength="8.4" lengthAdjust="spacingAndGlyphs" stroke="#fcfcfc" stroke-width="2.2">3</text>
<text transform="translate(1229.8,861.7) rotate(-90)" font-family="'Liberation Sans', sans-serif" font-weight="bold" font-size="23" text-anchor="start" fill="#fcfcfc" textLength="23.9" lengthAdjust="spacingAndGlyphs" stroke="#fcfcfc" stroke-width="2.2">@</text>
<text transform="translate(1229.8,836.3) rotate(-90)" font-family="'Liberation Sans', sans-serif" font-weight="bold" font-size="23" text-anchor="start" fill="#fcfcfc" textLength="86.6" lengthAdjust="spacingAndGlyphs" stroke="#fcfcfc" stroke-width="2.2">PdCu/C</text>
<text transform="translate(1229.8,933.8) rotate(-90)" font-family="'Liberation Sans', sans-serif" font-weight="bold" font-size="23" text-anchor="start" fill="#232323" textLength="24.4" lengthAdjust="spacingAndGlyphs" stroke="#232323" stroke-width="0.6">Pt</text>
<text transform="translate(1239.3,910.1) rotate(-90)" font-family="'Liberation Sans', sans-serif" font-weight="bold" font-size="12" text-anchor="start" fill="#232323" textLength="9.2" lengthAdjust="spacingAndGlyphs" stroke="#232323" stroke-width="0.6">1</text>
<text transform="translate(1229.8,900.7) rotate(-90)" font-family="'Liberation Sans', sans-serif" font-weight="bold" font-size="23" text-anchor="start" fill="#232323" textLength="31.5" lengthAdjust="spacingAndGlyphs" stroke="#232323" stroke-width="0.6">Ru</text>
<text transform="translate(1239.3,869.2) rotate(-90)" font-family="'Liberation Sans', sans-serif" font-weight="bold" font-size="12" text-anchor="start" fill="#232323" textLength="8.4" lengthAdjust="spacingAndGlyphs" stroke="#232323" stroke-width="0.6">3</text>
<text transform="translate(1229.8,861.7) rotate(-90)" font-family="'Liberation Sans', sans-serif" font-weight="bold" font-size="23" text-anchor="start" fill="#232323" textLength="23.9" lengthAdjust="spacingAndGlyphs" stroke="#232323" stroke-width="1.0">@</text>
<text transform="translate(1229.8,836.3) rotate(-90)" font-family="'Liberation Sans', sans-serif" font-weight="bold" font-size="23" text-anchor="start" fill="#232323" textLength="86.6" lengthAdjust="spacingAndGlyphs" stroke="#232323" stroke-width="0.6">PdCu/C</text>
<text x="981.5" y="983.0" font-family="'Liberation Sans', sans-serif" font-weight="bold" font-size="23" text-anchor="middle" fill="#232323" textLength="94.5" lengthAdjust="spacingAndGlyphs" stroke="#232323" stroke-width="0.6">Samples</text>
<text transform="translate(653.4,892.0) rotate(-90)" font-family="'Liberation Sans', sans-serif" font-weight="bold" font-size="24" text-anchor="start" fill="#232323" textLength="288.5" lengthAdjust="spacingAndGlyphs" stroke="#232323" stroke-width="0.6">Specific Activity / mA cm</text>
<text transform="translate(639.9,604.0) rotate(-90)" font-family="'Liberation Sans', sans-serif" font-weight="bold" font-size="12.5" text-anchor="start" fill="#232323" textLength="13.0" lengthAdjust="spacingAndGlyphs" stroke="#232323" stroke-width="0.6">-2</text>
<text x="1198.5" y="577.0" font-family="'Liberation Sans', sans-serif" font-weight="bold" font-size="38" text-anchor="start" fill="#232323" textLength="24.0" lengthAdjust="spacingAndGlyphs" stroke="#232323" stroke-width="0.6">d</text>
</g>
</svg></body></html>
